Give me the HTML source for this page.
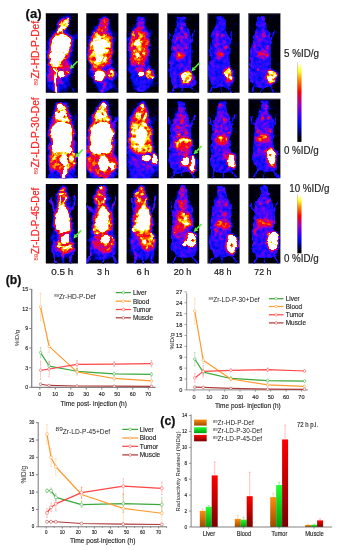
<!DOCTYPE html>
<html><head><meta charset="utf-8"><title>PET imaging figure</title>
<style>
html,body{margin:0;padding:0;background:#fff}
svg{display:block}
text{font-family:"Liberation Sans", Arial, sans-serif}
</style></head>
<body>
<svg width="337" height="550" viewBox="0 0 337 550">
<rect width="337" height="550" fill="#fff"/>
<text x="25.60" y="17.90" font-size="12.8" fill="#111" font-weight="bold" textLength="16.00" lengthAdjust="spacingAndGlyphs" stroke="#111" stroke-width="0.25">(a)</text>
<text x="5.70" y="284.30" font-size="12.8" fill="#111" font-weight="bold" textLength="15.60" lengthAdjust="spacingAndGlyphs" stroke="#111" stroke-width="0.25">(b)</text>
<text x="160.30" y="424.60" font-size="12.8" fill="#111" font-weight="bold" textLength="15.00" lengthAdjust="spacingAndGlyphs" stroke="#111" stroke-width="0.25">(c)</text>
<text transform="translate(39.4,85.5) rotate(-90)" font-size="10" fill="#ff2a2a" stroke="#ff2a2a" stroke-width="0.25" textLength="64.6" lengthAdjust="spacingAndGlyphs"><tspan font-size="6.2" dy="-1.8" stroke-width="0.05">89</tspan><tspan dy="1.8">Zr-HD-P-Def</tspan></text>
<text transform="translate(39.4,174.5) rotate(-90)" font-size="10" fill="#ff2a2a" stroke="#ff2a2a" stroke-width="0.25" textLength="77.2" lengthAdjust="spacingAndGlyphs"><tspan font-size="6.2" dy="-1.8" stroke-width="0.05">89</tspan><tspan dy="1.8">Zr-LD-P-30-Def</tspan></text>
<text transform="translate(39.4,260.5) rotate(-90)" font-size="10" fill="#ff2a2a" stroke="#ff2a2a" stroke-width="0.25" textLength="72.8" lengthAdjust="spacingAndGlyphs"><tspan font-size="6.2" dy="-1.8" stroke-width="0.05">89</tspan><tspan dy="1.8">Zr-LD-P-45-Def</tspan></text>
<text x="51.2" y="274.5" font-size="9.6" fill="#1a1a1a" stroke="#1a1a1a" stroke-width="0.2" textLength="22.0" lengthAdjust="spacingAndGlyphs">0.5 h</text>
<text x="96.9" y="274.5" font-size="9.6" fill="#1a1a1a" stroke="#1a1a1a" stroke-width="0.2" textLength="12.5" lengthAdjust="spacingAndGlyphs">3 h</text>
<text x="136.4" y="274.5" font-size="9.6" fill="#1a1a1a" stroke="#1a1a1a" stroke-width="0.2" textLength="12.9" lengthAdjust="spacingAndGlyphs">6 h</text>
<text x="173.7" y="274.5" font-size="9.6" fill="#1a1a1a" stroke="#1a1a1a" stroke-width="0.2" textLength="17.5" lengthAdjust="spacingAndGlyphs">20 h</text>
<text x="214.0" y="274.5" font-size="9.6" fill="#1a1a1a" stroke="#1a1a1a" stroke-width="0.2" textLength="17.5" lengthAdjust="spacingAndGlyphs">48 h</text>
<text x="254.3" y="274.5" font-size="9.6" fill="#1a1a1a" stroke="#1a1a1a" stroke-width="0.2" textLength="17.0" lengthAdjust="spacingAndGlyphs">72 h</text>
<defs><linearGradient id="cb" x1="0" y1="1" x2="0" y2="0"><stop offset="0" stop-color="#000000"/><stop offset="0.05" stop-color="#000010"/><stop offset="0.13" stop-color="#000080"/><stop offset="0.25" stop-color="#0808ff"/><stop offset="0.36" stop-color="#5000f0"/><stop offset="0.46" stop-color="#9a00c0"/><stop offset="0.63" stop-color="#ff0000"/><stop offset="0.77" stop-color="#ff8000"/><stop offset="0.89" stop-color="#ffff20"/><stop offset="0.99" stop-color="#ffffff"/></linearGradient></defs>
<rect x="297.1" y="62.3" width="0.8" height="79.6" fill="#9a9a9a"/><rect x="297.1" y="194" width="0.8" height="59.3" fill="#9a9a9a"/>
<rect x="297.5" y="62.3" width="4" height="79.6" fill="url(#cb)"/>
<rect x="297.5" y="194" width="4" height="59.3" fill="url(#cb)"/>
<text x="284" y="56.8" font-size="10.1" fill="#262626" stroke="#262626" stroke-width="0.2" textLength="35.0" lengthAdjust="spacingAndGlyphs">5 %ID/g</text>
<text x="283.9" y="154.3" font-size="10.1" fill="#262626" stroke="#262626" stroke-width="0.2" textLength="34.8" lengthAdjust="spacingAndGlyphs">0 %ID/g</text>
<text x="289.2" y="192.3" font-size="10.1" fill="#262626" stroke="#262626" stroke-width="0.2" textLength="40.3" lengthAdjust="spacingAndGlyphs">10 %ID/g</text>
<text x="283.9" y="262.3" font-size="10.1" fill="#262626" stroke="#262626" stroke-width="0.2" textLength="34.8" lengthAdjust="spacingAndGlyphs">0 %ID/g</text>
<defs>
<filter id="b0" filterUnits="userSpaceOnUse" x="-40" y="-40" width="300" height="630" color-interpolation-filters="sRGB"><feGaussianBlur stdDeviation="2.5"/></filter>
<filter id="b1" filterUnits="userSpaceOnUse" x="-40" y="-40" width="300" height="630" color-interpolation-filters="sRGB"><feGaussianBlur stdDeviation="4.5"/></filter>
<filter id="b2" filterUnits="userSpaceOnUse" x="-40" y="-40" width="300" height="630" color-interpolation-filters="sRGB"><feGaussianBlur stdDeviation="7.0"/></filter>
<filter id="b3" filterUnits="userSpaceOnUse" x="-40" y="-40" width="300" height="630" color-interpolation-filters="sRGB"><feGaussianBlur stdDeviation="11.0"/></filter>
<filter id="b4" filterUnits="userSpaceOnUse" x="-40" y="-40" width="300" height="630" color-interpolation-filters="sRGB"><feGaussianBlur stdDeviation="16.0"/></filter>
<filter id="cm" filterUnits="userSpaceOnUse" x="40" y="8" width="250" height="262" color-interpolation-filters="sRGB"><feTurbulence type="fractalNoise" baseFrequency="0.26" numOctaves="2" seed="7" result="n"/><feColorMatrix in="n" type="matrix" values="1.8 1.2 0 0 -1  1.8 1.2 0 0 -1  1.8 1.2 0 0 -1  0 0 0 0 1" result="ng"/><feTurbulence type="fractalNoise" baseFrequency="0.11" numOctaves="2" seed="3" result="t"/><feDisplacementMap in="SourceGraphic" in2="t" scale="5.5" xChannelSelector="R" yChannelSelector="G" result="d"/><feFlood flood-color="#000" result="k"/><feMerge result="dm"><feMergeNode in="k"/><feMergeNode in="d"/></feMerge><feComposite in="dm" in2="ng" operator="arithmetic" k1="0.5" k2="0.76" k3="0.04" k4="-0.02" result="m0"/><feGaussianBlur in="m0" stdDeviation="0.55" result="m"/><feComponentTransfer in="m"><feFuncR type="table" tableValues="0 0 0.02 0.28 0.62 0.88 1 1 1 1 1 1 1 1 1 1"/><feFuncG type="table" tableValues="0 0 0.06 0.03 0 0 0 0.38 0.72 1 1 1 1 1 1 1"/><feFuncB type="table" tableValues="0.02 0.55 1 1 0.78 0.4 0 0 0 0.15 1 1 1 1 1 1"/></feComponentTransfer><feComposite in2="SourceGraphic" operator="in"/></filter>
</defs>
<g filter="url(#cm)">
<svg x="45.8" y="13.3" width="32.1" height="79.5" viewBox="-1.38 2.06 220.69 546.56" preserveAspectRatio="none" overflow="hidden">
<rect x="-20" y="-20" width="280" height="600" fill="#000"/>
<path d="M60.0 120.0C37.5 133.3 23.7 170.0 15.0 200.0C6.3 230.0 9.2 266.7 8.0 300.0C6.8 333.3 6.8 371.7 8.0 400.0C9.2 428.3 11.3 446.7 15.0 470.0C18.7 493.3 12.5 528.3 30.0 540.0C47.5 551.7 98.3 551.7 120.0 540.0C141.7 528.3 150.0 493.3 160.0 470.0C170.0 446.7 177.5 428.3 180.0 400.0C182.5 371.7 173.3 333.3 175.0 300.0C176.7 266.7 194.2 230.0 190.0 200.0C185.8 170.0 171.7 133.3 150.0 120.0C128.3 106.7 82.5 106.7 60.0 120.0Z" fill="#1f1f1f" filter="url(#b3)"/>
<path d="M170 215L210 150" fill="none" stroke="#292929" stroke-width="12" stroke-linecap="round" stroke-linejoin="round" filter="url(#b2)"/>
<path d="M20 190L8 260" fill="none" stroke="#252525" stroke-width="10" stroke-linecap="round" stroke-linejoin="round" filter="url(#b2)"/>
<path d="M150 470L195 535" fill="none" stroke="#292929" stroke-width="11" stroke-linecap="round" stroke-linejoin="round" filter="url(#b2)"/>
<path d="M30 440L12 535" fill="none" stroke="#252525" stroke-width="11" stroke-linecap="round" stroke-linejoin="round" filter="url(#b2)"/>
<ellipse cx="130" cy="365" rx="42" ry="40" fill="#474747" filter="url(#b3)"/>
<ellipse cx="40" cy="430" rx="22" ry="45" fill="#3a3a3a" filter="url(#b3)"/>
<ellipse cx="120" cy="85" rx="30" ry="66" fill="#6d6d6d" filter="url(#b2)" transform="rotate(28 120 85)"/>
<ellipse cx="124" cy="82" rx="19" ry="54" fill="#a2a2a2" filter="url(#b1)" transform="rotate(28 124 82)"/>
<ellipse cx="138" cy="60" rx="11" ry="26" fill="#d5d5d5" filter="url(#b1)" transform="rotate(28 138 60)"/>
<ellipse cx="105" cy="135" rx="20" ry="20" fill="#d5d5d5" filter="url(#b1)"/>
<path d="M60.0 150.0C74.3 141.7 93.7 129.7 110.0 130.0C126.3 130.3 146.3 137.8 158.0 152.0C169.7 166.2 179.7 196.2 180.0 215.0C180.3 233.8 166.7 248.3 160.0 265.0C153.3 281.7 148.0 298.8 140.0 315.0C132.0 331.2 123.7 350.3 112.0 362.0C100.3 373.7 85.0 384.5 70.0 385.0C55.0 385.5 31.3 380.8 22.0 365.0C12.7 349.2 13.0 312.5 14.0 290.0C15.0 267.5 26.3 248.3 28.0 230.0C29.7 211.7 18.7 193.3 24.0 180.0C29.3 166.7 45.7 158.3 60.0 150.0Z" fill="#707070" filter="url(#b2)"/>
<path d="M62.0 164.0C74.3 157.0 95.0 145.7 110.0 146.0C125.0 146.3 142.3 154.5 152.0 166.0C161.7 177.5 169.0 199.7 168.0 215.0C167.0 230.3 153.3 242.5 146.0 258.0C138.7 273.5 132.0 292.7 124.0 308.0C116.0 323.3 107.8 339.7 98.0 350.0C88.2 360.3 76.0 369.3 65.0 370.0C54.0 370.7 38.5 367.3 32.0 354.0C25.5 340.7 24.7 310.7 26.0 290.0C27.3 269.3 38.3 247.0 40.0 230.0C41.7 213.0 32.3 199.0 36.0 188.0C39.7 177.0 49.7 171.0 62.0 164.0Z" fill="#bfbfbf" filter="url(#b1)"/>
<path d="M70.0 178.0C80.3 172.0 98.0 161.7 110.0 162.0C122.0 162.3 134.5 171.2 142.0 180.0C149.5 188.8 156.3 203.3 155.0 215.0C153.7 226.7 141.5 235.8 134.0 250.0C126.5 264.2 117.7 285.3 110.0 300.0C102.3 314.7 96.0 329.0 88.0 338.0C80.0 347.0 69.7 353.0 62.0 354.0C54.3 355.0 46.0 354.7 42.0 344.0C38.0 333.3 36.7 309.0 38.0 290.0C39.3 271.0 48.3 245.3 50.0 230.0C51.7 214.7 44.7 206.7 48.0 198.0C51.3 189.3 59.7 184.0 70.0 178.0Z" fill="#ffffff" filter="url(#b0)"/>
<ellipse cx="146" cy="295" rx="10" ry="32" fill="#7e7e7e" filter="url(#b2)" transform="rotate(15 146 295)"/>
<path d="M68 380L60 450L72 552" fill="none" stroke="#7a7a7a" stroke-width="18" stroke-linecap="round" stroke-linejoin="round" filter="url(#b2)"/>
<path d="M68 385L62 450L72 552" fill="none" stroke="#d5d5d5" stroke-width="9" stroke-linecap="round" stroke-linejoin="round" filter="url(#b1)"/>
<ellipse cx="100" cy="418" rx="31" ry="29" fill="#818181" filter="url(#b2)"/>
<ellipse cx="100" cy="418" rx="23" ry="22" fill="#ffffff" filter="url(#b1)"/>
<ellipse cx="150" cy="402" rx="20" ry="14" fill="#7e7e7e" filter="url(#b2)" transform="rotate(-35 150 402)"/>
<ellipse cx="152" cy="400" rx="9" ry="7" fill="#a2a2a2" filter="url(#b1)" transform="rotate(-35 152 400)"/>
<path d="M40 395L32 470" fill="none" stroke="#707070" stroke-width="9" stroke-linecap="round" stroke-linejoin="round" filter="url(#b2)"/>
<path d="M85 455L112 485" fill="none" stroke="#6d6d6d" stroke-width="9" stroke-linecap="round" stroke-linejoin="round" filter="url(#b2)"/>
</svg>
<svg x="86.3" y="13.3" width="32.1" height="79.5" viewBox="2.06 2.06 220.69 546.56" preserveAspectRatio="none" overflow="hidden">
<rect x="-20" y="-20" width="280" height="600" fill="#000"/>
<g transform="translate(100,0) scale(1.07,1) translate(-100,0)">
<path d="M105.0 40.0C92.5 48.3 85.0 71.7 75.0 90.0C65.0 108.3 53.3 128.3 45.0 150.0C36.7 171.7 28.3 195.0 25.0 220.0C21.7 245.0 24.2 273.3 25.0 300.0C25.8 326.7 28.3 356.7 30.0 380.0C31.7 403.3 28.3 421.7 35.0 440.0C41.7 458.3 60.0 472.5 70.0 490.0C80.0 507.5 83.3 535.8 95.0 545.0C106.7 554.2 125.8 554.2 140.0 545.0C154.2 535.8 170.0 507.5 180.0 490.0C190.0 472.5 197.5 458.3 200.0 440.0C202.5 421.7 200.0 403.3 195.0 380.0C190.0 356.7 173.3 326.7 170.0 300.0C166.7 273.3 175.0 245.0 175.0 220.0C175.0 195.0 172.5 171.7 170.0 150.0C167.5 128.3 163.3 108.3 160.0 90.0C156.7 71.7 159.2 48.3 150.0 40.0C140.8 31.7 117.5 31.7 105.0 40.0Z" fill="#252525" filter="url(#b2)"/>
<path d="M185 190L195 140" fill="none" stroke="#252525" stroke-width="10" stroke-linecap="round" stroke-linejoin="round" filter="url(#b2)"/>
<path d="M175 480L200 530" fill="none" stroke="#252525" stroke-width="10" stroke-linecap="round" stroke-linejoin="round" filter="url(#b2)"/>
<path d="M20 150L30 200" fill="none" stroke="#222222" stroke-width="9" stroke-linecap="round" stroke-linejoin="round" filter="url(#b2)"/>
<ellipse cx="115" cy="85" rx="32" ry="60" fill="#525252" filter="url(#b2)" transform="rotate(12 115 85)"/>
<ellipse cx="125" cy="50" rx="14" ry="19" fill="#696969" filter="url(#b1)"/>
<ellipse cx="100" cy="105" rx="15" ry="19" fill="#696969" filter="url(#b1)"/>
<ellipse cx="130" cy="100" rx="11" ry="15" fill="#666666" filter="url(#b1)"/>
<path d="M45.0 160.0C57.5 141.3 80.8 128.8 100.0 128.0C119.2 127.2 147.0 138.0 160.0 155.0C173.0 172.0 177.3 204.2 178.0 230.0C178.7 255.8 172.3 287.0 164.0 310.0C155.7 333.0 144.0 356.3 128.0 368.0C112.0 379.7 85.2 386.3 68.0 380.0C50.8 373.7 32.2 353.3 25.0 330.0C17.8 306.7 21.7 268.3 25.0 240.0C28.3 211.7 32.5 178.7 45.0 160.0Z" fill="#747474" filter="url(#b2)"/>
<path d="M44.0 192.0C52.8 176.3 77.0 158.3 95.0 156.0C113.0 153.7 140.8 164.8 152.0 178.0C163.2 191.2 163.7 218.3 162.0 235.0C160.3 251.7 148.7 260.5 142.0 278.0C135.3 295.5 132.7 327.7 122.0 340.0C111.3 352.3 89.7 357.3 78.0 352.0C66.3 346.7 58.0 325.0 52.0 308.0C46.0 291.0 43.3 269.3 42.0 250.0C40.7 230.7 35.2 207.7 44.0 192.0Z" fill="#929292" filter="url(#b1)"/>
<path d="M54.0 208.0C60.2 196.3 80.3 178.7 95.0 176.0C109.7 173.3 132.8 182.2 142.0 192.0C151.2 201.8 152.7 222.7 150.0 235.0C147.3 247.3 132.7 251.5 126.0 266.0C119.3 280.5 116.3 311.0 110.0 322.0C103.7 333.0 94.3 337.0 88.0 332.0C81.7 327.0 77.0 306.3 72.0 292.0C67.0 277.7 61.0 260.0 58.0 246.0C55.0 232.0 47.8 219.7 54.0 208.0Z" fill="#d5d5d5" filter="url(#b1)"/>
<ellipse cx="52" cy="300" rx="12" ry="38" fill="#858585" filter="url(#b1)"/>
<ellipse cx="70" cy="380" rx="34" ry="15" fill="#696969" filter="url(#b2)"/>
<ellipse cx="152" cy="330" rx="11" ry="22" fill="#707070" filter="url(#b2)"/>
<ellipse cx="75" cy="150" rx="14" ry="16" fill="#888888" filter="url(#b1)"/>
<ellipse cx="125" cy="150" rx="14" ry="14" fill="#858585" filter="url(#b1)"/>
<ellipse cx="90" cy="432" rx="40" ry="40" fill="#858585" filter="url(#b2)"/>
<ellipse cx="90" cy="432" rx="32" ry="32" fill="#ffffff" filter="url(#b1)"/>
<ellipse cx="170" cy="415" rx="29" ry="38" fill="#7e7e7e" filter="url(#b2)"/>
<ellipse cx="173" cy="400" rx="12" ry="13" fill="#a5a5a5" filter="url(#b1)"/>
<ellipse cx="159" cy="434" rx="11" ry="11" fill="#a5a5a5" filter="url(#b1)"/>
<ellipse cx="182" cy="430" rx="9" ry="10" fill="#9c9c9c" filter="url(#b1)"/>
<ellipse cx="172" cy="418" rx="7" ry="7" fill="#666666" filter="url(#b1)"/>
<path d="M128 480L112 548" fill="none" stroke="#636363" stroke-width="9" stroke-linecap="round" stroke-linejoin="round" filter="url(#b2)"/>
</g>
</svg>
<svg x="126.6" y="13.3" width="32.1" height="79.5" viewBox="4.12 2.06 220.69 546.56" preserveAspectRatio="none" overflow="hidden">
<rect x="-20" y="-20" width="280" height="600" fill="#000"/>
<g transform="translate(90,0) scale(1.06,1) translate(-90,0)">
<path d="M90.0 35.0C79.2 44.2 69.2 70.8 60.0 90.0C50.8 109.2 41.7 128.3 35.0 150.0C28.3 171.7 22.5 195.0 20.0 220.0C17.5 245.0 19.2 273.3 20.0 300.0C20.8 326.7 23.3 356.7 25.0 380.0C26.7 403.3 25.0 421.7 30.0 440.0C35.0 458.3 46.7 472.5 55.0 490.0C63.3 507.5 69.2 535.8 80.0 545.0C90.8 554.2 105.0 554.2 120.0 545.0C135.0 535.8 159.2 507.5 170.0 490.0C180.8 472.5 185.0 458.3 185.0 440.0C185.0 421.7 175.8 403.3 170.0 380.0C164.2 356.7 153.3 326.7 150.0 300.0C146.7 273.3 150.0 245.0 150.0 220.0C150.0 195.0 152.5 171.7 150.0 150.0C147.5 128.3 139.2 109.2 135.0 90.0C130.8 70.8 132.5 44.2 125.0 35.0C117.5 25.8 100.8 25.8 90.0 35.0Z" fill="#252525" filter="url(#b2)"/>
<path d="M150 160L165 120" fill="none" stroke="#252525" stroke-width="9" stroke-linecap="round" stroke-linejoin="round" filter="url(#b2)"/>
<path d="M150 480L215 490" fill="none" stroke="#222222" stroke-width="9" stroke-linecap="round" stroke-linejoin="round" filter="url(#b2)"/>
<path d="M10 140L25 200" fill="none" stroke="#222222" stroke-width="9" stroke-linecap="round" stroke-linejoin="round" filter="url(#b2)"/>
<ellipse cx="100" cy="85" rx="25" ry="54" fill="#414141" filter="url(#b2)" transform="rotate(8 100 85)"/>
<ellipse cx="105" cy="50" rx="9" ry="11" fill="#525252" filter="url(#b1)"/>
<ellipse cx="90" cy="100" rx="9" ry="11" fill="#525252" filter="url(#b1)"/>
<path d="M36.0 148.0C45.8 134.0 67.7 116.0 85.0 116.0C102.3 116.0 129.2 129.0 140.0 148.0C150.8 167.0 150.0 201.3 150.0 230.0C150.0 258.7 148.3 299.0 140.0 320.0C131.7 341.0 115.7 352.7 100.0 356.0C84.3 359.3 58.3 356.0 46.0 340.0C33.7 324.0 29.3 283.3 26.0 260.0C22.7 236.7 24.3 218.7 26.0 200.0C27.7 181.3 26.2 162.0 36.0 148.0Z" fill="#666666" filter="url(#b2)"/>
<ellipse cx="60" cy="150" rx="14" ry="24" fill="#7a7a7a" filter="url(#b1)"/>
<ellipse cx="115" cy="150" rx="14" ry="24" fill="#7a7a7a" filter="url(#b1)"/>
<ellipse cx="85" cy="260" rx="21" ry="76" fill="#858585" filter="url(#b2)"/>
<ellipse cx="82" cy="212" rx="25" ry="25" fill="#9c9c9c" filter="url(#b1)"/>
<ellipse cx="80" cy="210" rx="13" ry="13" fill="#cccccc" filter="url(#b1)"/>
<ellipse cx="88" cy="290" rx="9" ry="34" fill="#a7a7a7" filter="url(#b1)"/>
<ellipse cx="48" cy="270" rx="9" ry="22" fill="#818181" filter="url(#b1)"/>
<ellipse cx="122" cy="260" rx="9" ry="27" fill="#7e7e7e" filter="url(#b1)"/>
<ellipse cx="70" cy="330" rx="10" ry="12" fill="#7a7a7a" filter="url(#b1)"/>
<ellipse cx="95" cy="380" rx="26" ry="30" fill="#525252" filter="url(#b2)"/>
<ellipse cx="97" cy="422" rx="22" ry="22" fill="#8b8b8b" filter="url(#b1)"/>
<ellipse cx="97" cy="422" rx="15" ry="15" fill="#ffffff" filter="url(#b1)"/>
<ellipse cx="155" cy="415" rx="27" ry="34" fill="#777777" filter="url(#b2)"/>
<ellipse cx="160" cy="398" rx="11" ry="11" fill="#999999" filter="url(#b1)"/>
<ellipse cx="146" cy="432" rx="11" ry="11" fill="#a0a0a0" filter="url(#b1)"/>
<ellipse cx="169" cy="430" rx="8" ry="10" fill="#929292" filter="url(#b1)"/>
<path d="M100 460L85 540" fill="none" stroke="#363636" stroke-width="8" stroke-linecap="round" stroke-linejoin="round" filter="url(#b2)"/>
</g>
</svg>
<svg x="167.1" y="13.3" width="32.1" height="79.5" viewBox="0.69 2.06 220.69 546.56" preserveAspectRatio="none" overflow="hidden">
<rect x="-20" y="-20" width="280" height="600" fill="#000"/>
<path d="M84.6 28.0C77.4 33.0 76.0 45.5 72.5 58.0C69.0 70.5 68.6 88.3 63.7 103.0C58.7 117.7 48.3 126.8 42.8 146.0C37.3 165.2 34.0 189.3 30.7 218.0C27.4 246.7 25.2 289.7 23.0 318.0C20.8 346.3 18.1 366.3 17.5 388.0C16.9 409.7 16.6 431.7 19.7 448.0C22.8 464.3 29.0 475.2 36.2 486.0C43.3 496.8 42.1 508.5 62.6 513.0C83.1 517.5 137.8 517.5 159.4 513.0C181.0 508.5 186.5 496.8 192.4 486.0C198.3 475.2 197.5 464.3 194.6 448.0C191.7 431.7 179.2 409.7 174.8 388.0C170.4 366.3 169.3 346.3 168.2 318.0C167.1 289.7 169.7 246.7 168.2 218.0C166.7 189.3 164.3 165.2 159.4 146.0C154.5 126.8 143.4 117.7 138.5 103.0C133.6 88.3 133.5 70.5 129.7 58.0C125.8 45.5 122.9 33.0 115.4 28.0C107.9 23.0 91.8 23.0 84.6 28.0Z" fill="#292929" filter="url(#b1)"/>
<ellipse cx="82.4" cy="36" rx="8" ry="10" fill="#292929" filter="url(#b1)"/>
<ellipse cx="117.6" cy="36" rx="8" ry="10" fill="#292929" filter="url(#b1)"/>
<path d="M160.5 208L179.2 168L190.2 128" fill="none" stroke="#292929" stroke-width="11" stroke-linecap="round" stroke-linejoin="round" filter="url(#b1)"/>
<path d="M39.49999999999999 203L16.39999999999999 178L12.0 138" fill="none" stroke="#252525" stroke-width="10" stroke-linecap="round" stroke-linejoin="round" filter="url(#b1)"/>
<path d="M50.49999999999999 498L29.599999999999994 563" fill="none" stroke="#292929" stroke-width="11" stroke-linecap="round" stroke-linejoin="round" filter="url(#b1)"/>
<path d="M157.2 498L196.8 558" fill="none" stroke="#292929" stroke-width="11" stroke-linecap="round" stroke-linejoin="round" filter="url(#b1)"/>
<path d="M105.5 513L100.0 568" fill="none" stroke="#252525" stroke-width="7" stroke-linecap="round" stroke-linejoin="round" filter="url(#b1)"/>
<ellipse cx="95" cy="210" rx="45" ry="80" fill="#333333" filter="url(#b3)"/>
<ellipse cx="80" cy="170" rx="14" ry="14" fill="#4b4b4b" filter="url(#b1)"/>
<ellipse cx="120" cy="160" rx="12" ry="14" fill="#4b4b4b" filter="url(#b1)"/>
<ellipse cx="60" cy="240" rx="12" ry="14" fill="#4e4e4e" filter="url(#b1)"/>
<ellipse cx="140" cy="240" rx="12" ry="14" fill="#4b4b4b" filter="url(#b1)"/>
<ellipse cx="100" cy="105" rx="10" ry="10" fill="#414141" filter="url(#b1)"/>
<ellipse cx="92" cy="292" rx="38" ry="34" fill="#4e4e4e" filter="url(#b2)"/>
<ellipse cx="92" cy="290" rx="22" ry="18" fill="#636363" filter="url(#b1)"/>
<ellipse cx="85" cy="360" rx="18" ry="18" fill="#3a3a3a" filter="url(#b2)"/>
<ellipse cx="135" cy="437" rx="45" ry="45" fill="#696969" filter="url(#b2)"/>
<ellipse cx="135" cy="437" rx="36" ry="37" fill="#8f8f8f" filter="url(#b1)"/>
<ellipse cx="114" cy="437" rx="14" ry="20" fill="#eaeaea" filter="url(#b1)"/>
<ellipse cx="150" cy="420" rx="10" ry="10" fill="#9c9c9c" filter="url(#b1)"/>
<ellipse cx="150" cy="455" rx="11" ry="9" fill="#a0a0a0" filter="url(#b1)"/>
</svg>
<svg x="207.5" y="13.3" width="32.1" height="79.5" viewBox="3.44 2.06 220.69 546.56" preserveAspectRatio="none" overflow="hidden">
<rect x="-20" y="-20" width="280" height="600" fill="#000"/>
<path d="M75.3 25.0C68.5 30.0 67.1 42.5 63.8 55.0C60.4 67.5 60.1 85.3 55.4 100.0C50.6 114.7 40.6 123.8 35.4 143.0C30.1 162.2 27.0 186.3 23.8 215.0C20.7 243.7 18.6 286.7 16.5 315.0C14.4 343.3 11.8 363.3 11.2 385.0C10.7 406.7 10.4 428.7 13.3 445.0C16.3 461.3 22.3 472.2 29.1 483.0C35.9 493.8 34.7 505.5 54.3 510.0C73.9 514.5 126.0 514.5 146.7 510.0C167.3 505.5 172.6 493.8 178.2 483.0C183.8 472.2 183.1 461.3 180.3 445.0C177.5 428.7 165.6 406.7 161.4 385.0C157.2 363.3 156.2 343.3 155.1 315.0C154.1 286.7 156.5 243.7 155.1 215.0C153.7 186.3 151.4 162.2 146.7 143.0C142.0 123.8 131.5 114.7 126.8 100.0C122.0 85.3 122.0 67.5 118.3 55.0C114.7 42.5 111.9 30.0 104.7 25.0C97.5 20.0 82.1 20.0 75.3 25.0Z" fill="#292929" filter="url(#b1)"/>
<ellipse cx="73.2" cy="33" rx="8" ry="10" fill="#292929" filter="url(#b1)"/>
<ellipse cx="106.8" cy="33" rx="8" ry="10" fill="#292929" filter="url(#b1)"/>
<path d="M147.75 205L165.60000000000002 165L176.10000000000002 125" fill="none" stroke="#292929" stroke-width="11" stroke-linecap="round" stroke-linejoin="round" filter="url(#b1)"/>
<path d="M42.75 495L22.799999999999997 560" fill="none" stroke="#292929" stroke-width="11" stroke-linecap="round" stroke-linejoin="round" filter="url(#b1)"/>
<path d="M144.6 495L182.4 555" fill="none" stroke="#292929" stroke-width="11" stroke-linecap="round" stroke-linejoin="round" filter="url(#b1)"/>
<path d="M95.25 510L90.0 565" fill="none" stroke="#252525" stroke-width="7" stroke-linecap="round" stroke-linejoin="round" filter="url(#b1)"/>
<ellipse cx="90" cy="200" rx="42" ry="80" fill="#313131" filter="url(#b3)"/>
<ellipse cx="70" cy="150" rx="12" ry="14" fill="#444444" filter="url(#b1)"/>
<ellipse cx="110" cy="150" rx="12" ry="14" fill="#444444" filter="url(#b1)"/>
<ellipse cx="55" cy="230" rx="10" ry="16" fill="#474747" filter="url(#b1)"/>
<ellipse cx="130" cy="235" rx="10" ry="16" fill="#4b4b4b" filter="url(#b1)"/>
<ellipse cx="95" cy="280" rx="34" ry="28" fill="#474747" filter="url(#b2)"/>
<ellipse cx="90" cy="278" rx="19" ry="14" fill="#585858" filter="url(#b1)"/>
<ellipse cx="147" cy="422" rx="40" ry="52" fill="#696969" filter="url(#b2)"/>
<ellipse cx="147" cy="422" rx="31" ry="43" fill="#8f8f8f" filter="url(#b1)"/>
<ellipse cx="135" cy="432" rx="10" ry="18" fill="#bfbfbf" filter="url(#b1)"/>
<ellipse cx="160" cy="437" rx="9" ry="14" fill="#aaaaaa" filter="url(#b1)"/>
<ellipse cx="150" cy="398" rx="10" ry="8" fill="#7e7e7e" filter="url(#b1)"/>
</svg>
<svg x="248.3" y="13.3" width="32.1" height="79.5" viewBox="2.06 2.06 220.69 546.56" preserveAspectRatio="none" overflow="hidden">
<rect x="-20" y="-20" width="280" height="600" fill="#000"/>
<path d="M77.3 25.0C70.5 30.0 69.1 42.5 65.8 55.0C62.4 67.5 62.1 85.3 57.4 100.0C52.6 114.7 42.6 123.8 37.4 143.0C32.1 162.2 29.0 186.3 25.8 215.0C22.7 243.7 20.6 286.7 18.5 315.0C16.4 343.3 13.8 363.3 13.2 385.0C12.7 406.7 12.4 428.7 15.3 445.0C18.3 461.3 24.3 472.2 31.1 483.0C37.9 493.8 36.7 505.5 56.3 510.0C75.9 514.5 128.0 514.5 148.7 510.0C169.3 505.5 174.6 493.8 180.2 483.0C185.8 472.2 185.1 461.3 182.3 445.0C179.5 428.7 167.6 406.7 163.4 385.0C159.2 363.3 158.2 343.3 157.1 315.0C156.1 286.7 158.5 243.7 157.1 215.0C155.7 186.3 153.4 162.2 148.7 143.0C144.0 123.8 133.5 114.7 128.8 100.0C124.0 85.3 124.0 67.5 120.3 55.0C116.7 42.5 113.9 30.0 106.7 25.0C99.5 20.0 84.1 20.0 77.3 25.0Z" fill="#292929" filter="url(#b1)"/>
<ellipse cx="75.2" cy="33" rx="8" ry="10" fill="#292929" filter="url(#b1)"/>
<ellipse cx="108.8" cy="33" rx="8" ry="10" fill="#292929" filter="url(#b1)"/>
<path d="M149.75 205L167.60000000000002 165L178.10000000000002 125" fill="none" stroke="#292929" stroke-width="11" stroke-linecap="round" stroke-linejoin="round" filter="url(#b1)"/>
<path d="M44.75 495L24.799999999999997 560" fill="none" stroke="#292929" stroke-width="11" stroke-linecap="round" stroke-linejoin="round" filter="url(#b1)"/>
<path d="M146.6 495L184.4 555" fill="none" stroke="#292929" stroke-width="11" stroke-linecap="round" stroke-linejoin="round" filter="url(#b1)"/>
<path d="M97.25 510L92.0 565" fill="none" stroke="#252525" stroke-width="7" stroke-linecap="round" stroke-linejoin="round" filter="url(#b1)"/>
<ellipse cx="90" cy="200" rx="42" ry="80" fill="#313131" filter="url(#b3)"/>
<ellipse cx="65" cy="160" rx="10" ry="14" fill="#474747" filter="url(#b1)"/>
<ellipse cx="115" cy="150" rx="10" ry="14" fill="#444444" filter="url(#b1)"/>
<ellipse cx="50" cy="230" rx="10" ry="16" fill="#474747" filter="url(#b1)"/>
<ellipse cx="135" cy="235" rx="10" ry="16" fill="#4b4b4b" filter="url(#b1)"/>
<ellipse cx="100" cy="285" rx="38" ry="25" fill="#4b4b4b" filter="url(#b2)"/>
<ellipse cx="80" cy="280" rx="13" ry="10" fill="#636363" filter="url(#b1)"/>
<ellipse cx="120" cy="288" rx="13" ry="10" fill="#636363" filter="url(#b1)"/>
<ellipse cx="60" cy="400" rx="8" ry="8" fill="#474747" filter="url(#b1)"/>
<ellipse cx="160" cy="435" rx="38" ry="53" fill="#696969" filter="url(#b2)"/>
<ellipse cx="160" cy="435" rx="30" ry="44" fill="#8f8f8f" filter="url(#b1)"/>
<ellipse cx="150" cy="447" rx="10" ry="20" fill="#d5d5d5" filter="url(#b1)"/>
<ellipse cx="172" cy="432" rx="8" ry="18" fill="#aaaaaa" filter="url(#b1)"/>
<ellipse cx="160" cy="405" rx="10" ry="9" fill="#a3a3a3" filter="url(#b1)"/>
</svg>
<svg x="45.8" y="98.7" width="32.1" height="79.5" viewBox="-1.38 -2.06 220.69 546.56" preserveAspectRatio="none" overflow="hidden">
<rect x="-20" y="-20" width="280" height="600" fill="#000"/>
<g transform="translate(110,0) scale(1.12,1) translate(-110,0)">
<path d="M85.0 30.0C72.5 40.0 64.2 68.3 55.0 90.0C45.8 111.7 34.2 131.7 30.0 160.0C25.8 188.3 30.0 226.7 30.0 260.0C30.0 293.3 30.8 330.0 30.0 360.0C29.2 390.0 24.2 416.7 25.0 440.0C25.8 463.3 30.0 482.5 35.0 500.0C40.0 517.5 32.5 537.5 55.0 545.0C77.5 552.5 147.5 552.5 170.0 545.0C192.5 537.5 185.0 517.5 190.0 500.0C195.0 482.5 199.2 463.3 200.0 440.0C200.8 416.7 197.5 390.0 195.0 360.0C192.5 330.0 186.7 293.3 185.0 260.0C183.3 226.7 190.8 188.3 185.0 160.0C179.2 131.7 159.2 111.7 150.0 90.0C140.8 68.3 140.8 40.0 130.0 30.0C119.2 20.0 97.5 20.0 85.0 30.0Z" fill="#222222" filter="url(#b2)"/>
<path d="M28 125L45 190" fill="none" stroke="#292929" stroke-width="9" stroke-linecap="round" stroke-linejoin="round" filter="url(#b2)"/>
<path d="M207 105L180 180" fill="none" stroke="#292929" stroke-width="9" stroke-linecap="round" stroke-linejoin="round" filter="url(#b2)"/>
<path d="M55 470L38 548" fill="none" stroke="#333333" stroke-width="12" stroke-linecap="round" stroke-linejoin="round" filter="url(#b2)"/>
<path d="M185 470L198 548" fill="none" stroke="#333333" stroke-width="12" stroke-linecap="round" stroke-linejoin="round" filter="url(#b2)"/>
<path d="M100.0 20.0C107.7 19.3 120.5 24.7 128.0 38.0C135.5 51.3 138.8 80.5 145.0 100.0C151.2 119.5 180.0 145.8 165.0 155.0C150.0 164.2 71.2 164.2 55.0 155.0C38.8 145.8 63.5 118.8 68.0 100.0C72.5 81.2 76.7 55.3 82.0 42.0C87.3 28.7 92.3 20.7 100.0 20.0Z" fill="#747474" filter="url(#b2)"/>
<path d="M100.0 30.0C105.3 29.3 114.3 32.3 120.0 44.0C125.7 55.7 129.0 81.5 134.0 100.0C139.0 118.5 161.0 145.8 150.0 155.0C139.0 164.2 79.7 164.2 68.0 155.0C56.3 145.8 76.7 117.8 80.0 100.0C83.3 82.2 84.7 59.7 88.0 48.0C91.3 36.3 94.7 30.7 100.0 30.0Z" fill="#a2a2a2" filter="url(#b1)"/>
<ellipse cx="100" cy="55" rx="14" ry="19" fill="#bfbfbf" filter="url(#b1)"/>
<ellipse cx="105" cy="118" rx="24" ry="32" fill="#d5d5d5" filter="url(#b1)"/>
<ellipse cx="75" cy="100" rx="8" ry="14" fill="#999999" filter="url(#b1)"/>
<ellipse cx="112" cy="82" rx="7" ry="9" fill="#7a7a7a" filter="url(#b0)"/>
<ellipse cx="92" cy="95" rx="6" ry="8" fill="#7e7e7e" filter="url(#b0)"/>
<ellipse cx="125" cy="125" rx="6" ry="9" fill="#818181" filter="url(#b0)"/>
<path d="M40.0 200.0C44.5 175.0 46.7 158.3 65.0 150.0C83.3 141.7 130.8 141.7 150.0 150.0C169.2 158.3 175.7 175.0 180.0 200.0C184.3 225.0 177.7 270.8 176.0 300.0C174.3 329.2 181.0 359.7 170.0 375.0C159.0 390.3 130.8 392.0 110.0 392.0C89.2 392.0 57.0 390.3 45.0 375.0C33.0 359.7 38.8 329.2 38.0 300.0C37.2 270.8 35.5 225.0 40.0 200.0Z" fill="#7a7a7a" filter="url(#b2)"/>
<path d="M50.0 205.0C54.0 182.2 56.3 170.0 72.0 163.0C87.7 156.0 127.7 156.0 144.0 163.0C160.3 170.0 166.3 182.2 170.0 205.0C173.7 227.8 167.7 273.7 166.0 300.0C164.3 326.3 169.3 350.0 160.0 363.0C150.7 376.0 127.3 378.0 110.0 378.0C92.7 378.0 66.3 376.0 56.0 363.0C45.7 350.0 49.0 326.3 48.0 300.0C47.0 273.7 46.0 227.8 50.0 205.0Z" fill="#d5d5d5" filter="url(#b1)"/>
<path d="M60.0 210.0C63.7 189.7 67.3 183.3 80.0 178.0C92.7 172.7 122.7 172.7 136.0 178.0C149.3 183.3 156.7 189.7 160.0 210.0C163.3 230.3 157.7 276.3 156.0 300.0C154.3 323.7 157.7 341.2 150.0 352.0C142.3 362.8 124.3 365.0 110.0 365.0C95.7 365.0 72.7 362.8 64.0 352.0C55.3 341.2 58.7 323.7 58.0 300.0C57.3 276.3 56.3 230.3 60.0 210.0Z" fill="#ffffff" filter="url(#b0)"/>
<path d="M40.0 380.0C52.5 368.3 85.0 370.0 110.0 370.0C135.0 370.0 174.2 368.3 190.0 380.0C205.8 391.7 207.5 422.5 205.0 440.0C202.5 457.5 189.2 474.2 175.0 485.0C160.8 495.8 140.0 505.0 120.0 505.0C100.0 505.0 69.2 495.8 55.0 485.0C40.8 474.2 37.5 457.5 35.0 440.0C32.5 422.5 27.5 391.7 40.0 380.0Z" fill="#696969" filter="url(#b2)"/>
<ellipse cx="172" cy="400" rx="18" ry="36" fill="#929292" filter="url(#b1)"/>
<ellipse cx="62" cy="395" rx="16" ry="26" fill="#888888" filter="url(#b1)"/>
<ellipse cx="186" cy="440" rx="13" ry="13" fill="#a5a5a5" filter="url(#b1)"/>
<ellipse cx="150" cy="450" rx="12" ry="12" fill="#909090" filter="url(#b1)"/>
<ellipse cx="80" cy="450" rx="10" ry="14" fill="#888888" filter="url(#b1)"/>
<path d="M120 380L125 552" fill="none" stroke="#888888" stroke-width="28" stroke-linecap="round" stroke-linejoin="round" filter="url(#b2)"/>
<path d="M120 385L125 552" fill="none" stroke="#eaeaea" stroke-width="15" stroke-linecap="round" stroke-linejoin="round" filter="url(#b1)"/>
<ellipse cx="120" cy="420" rx="24" ry="36" fill="#eaeaea" filter="url(#b1)"/>
</g>
</svg>
<svg x="86.3" y="98.7" width="32.1" height="79.5" viewBox="2.06 -2.06 220.69 546.56" preserveAspectRatio="none" overflow="hidden">
<rect x="-20" y="-20" width="280" height="600" fill="#000"/>
<g transform="translate(112,0) scale(1.1,1) translate(-112,0)">
<path d="M95.0 20.0C83.3 30.0 75.0 58.3 65.0 80.0C55.0 101.7 41.7 121.7 35.0 150.0C28.3 178.3 27.5 216.7 25.0 250.0C22.5 283.3 21.7 318.3 20.0 350.0C18.3 381.7 13.3 415.0 15.0 440.0C16.7 465.0 24.2 482.5 30.0 500.0C35.8 517.5 25.0 537.5 50.0 545.0C75.0 552.5 155.0 552.5 180.0 545.0C205.0 537.5 195.8 517.5 200.0 500.0C204.2 482.5 206.7 465.0 205.0 440.0C203.3 415.0 193.3 381.7 190.0 350.0C186.7 318.3 186.7 283.3 185.0 250.0C183.3 216.7 185.0 178.3 180.0 150.0C175.0 121.7 162.5 101.7 155.0 80.0C147.5 58.3 145.0 30.0 135.0 20.0C125.0 10.0 106.7 10.0 95.0 20.0Z" fill="#292929" filter="url(#b2)"/>
<path d="M25 120L40 180" fill="none" stroke="#292929" stroke-width="9" stroke-linecap="round" stroke-linejoin="round" filter="url(#b2)"/>
<path d="M212 128L175 200" fill="none" stroke="#707070" stroke-width="13" stroke-linecap="round" stroke-linejoin="round" filter="url(#b2)"/>
<path d="M20.0 395.0C36.3 379.7 80.3 378.0 110.0 378.0C139.7 378.0 181.7 379.7 198.0 395.0C214.3 410.3 213.5 450.0 208.0 470.0C202.5 490.0 181.3 502.5 165.0 515.0C148.7 527.5 128.3 545.0 110.0 545.0C91.7 545.0 71.3 527.5 55.0 515.0C38.7 502.5 17.8 490.0 12.0 470.0C6.2 450.0 3.7 410.3 20.0 395.0Z" fill="#5f5f5f" filter="url(#b2)"/>
<ellipse cx="40" cy="440" rx="16" ry="30" fill="#666666" filter="url(#b2)"/>
<path d="M115.0 10.0C122.7 10.0 131.8 17.0 138.0 32.0C144.2 47.0 147.5 79.5 152.0 100.0C156.5 120.5 181.2 145.8 165.0 155.0C148.8 164.2 71.2 164.2 55.0 155.0C38.8 145.8 61.8 120.5 68.0 100.0C74.2 79.5 84.2 47.0 92.0 32.0C99.8 17.0 107.3 10.0 115.0 10.0Z" fill="#707070" filter="url(#b2)"/>
<path d="M115.0 18.0C120.7 18.0 127.3 24.3 132.0 38.0C136.7 51.7 139.5 80.5 143.0 100.0C146.5 119.5 165.5 145.8 153.0 155.0C140.5 164.2 80.2 164.2 68.0 155.0C55.8 145.8 75.0 119.5 80.0 100.0C85.0 80.5 92.2 51.7 98.0 38.0C103.8 24.3 109.3 18.0 115.0 18.0Z" fill="#999999" filter="url(#b1)"/>
<ellipse cx="115" cy="35" rx="15" ry="15" fill="#d5d5d5" filter="url(#b1)"/>
<ellipse cx="100" cy="120" rx="15" ry="27" fill="#bfbfbf" filter="url(#b1)"/>
<ellipse cx="135" cy="120" rx="11" ry="24" fill="#aaaaaa" filter="url(#b1)"/>
<ellipse cx="118" cy="80" rx="11" ry="15" fill="#aaaaaa" filter="url(#b1)"/>
<ellipse cx="118" cy="105" rx="6" ry="12" fill="#777777" filter="url(#b0)"/>
<ellipse cx="100" cy="70" rx="6" ry="8" fill="#7e7e7e" filter="url(#b0)"/>
<ellipse cx="132" cy="75" rx="5" ry="8" fill="#7e7e7e" filter="url(#b0)"/>
<path d="M30.0 220.0C35.3 195.8 39.2 165.8 60.0 155.0C80.8 144.2 135.0 144.2 155.0 155.0C175.0 165.8 176.3 195.8 180.0 220.0C183.7 244.2 178.0 274.2 177.0 300.0C176.0 325.8 185.2 359.7 174.0 375.0C162.8 390.3 133.0 392.0 110.0 392.0C87.0 392.0 49.7 390.3 36.0 375.0C22.3 359.7 29.0 325.8 28.0 300.0C27.0 274.2 24.7 244.2 30.0 220.0Z" fill="#777777" filter="url(#b2)"/>
<path d="M40.0 225.0C44.7 204.2 50.0 183.3 68.0 175.0C86.0 166.7 131.0 166.7 148.0 175.0C165.0 183.3 166.8 204.2 170.0 225.0C173.2 245.8 168.0 277.2 167.0 300.0C166.0 322.8 173.5 349.0 164.0 362.0C154.5 375.0 129.3 378.0 110.0 378.0C90.7 378.0 59.7 375.0 48.0 362.0C36.3 349.0 41.3 322.8 40.0 300.0C38.7 277.2 35.3 245.8 40.0 225.0Z" fill="#d5d5d5" filter="url(#b1)"/>
<path d="M50.0 230.0C54.3 212.0 60.7 198.3 76.0 192.0C91.3 185.7 128.0 185.7 142.0 192.0C156.0 198.3 157.7 212.0 160.0 230.0C162.3 248.0 157.3 279.7 156.0 300.0C154.7 320.3 159.7 341.2 152.0 352.0C144.3 362.8 125.7 365.0 110.0 365.0C94.3 365.0 68.0 362.8 58.0 352.0C48.0 341.2 51.3 320.3 50.0 300.0C48.7 279.7 45.7 248.0 50.0 230.0Z" fill="#ffffff" filter="url(#b0)"/>
<ellipse cx="120" cy="446" rx="40" ry="54" fill="#858585" filter="url(#b2)"/>
<ellipse cx="120" cy="446" rx="32" ry="47" fill="#ffffff" filter="url(#b1)"/>
<ellipse cx="180" cy="452" rx="24" ry="32" fill="#858585" filter="url(#b2)"/>
<ellipse cx="180" cy="455" rx="16" ry="23" fill="#eaeaea" filter="url(#b1)"/>
</g>
</svg>
<svg x="126.6" y="98.7" width="32.1" height="79.5" viewBox="4.12 -2.06 220.69 546.56" preserveAspectRatio="none" overflow="hidden">
<rect x="-20" y="-20" width="280" height="600" fill="#000"/>
<g transform="translate(105,0) scale(1.12,1) translate(-105,0)">
<path d="M90.0 25.0C78.3 34.2 70.0 59.2 60.0 80.0C50.0 100.8 35.8 121.7 30.0 150.0C24.2 178.3 26.7 216.7 25.0 250.0C23.3 283.3 20.8 318.3 20.0 350.0C19.2 381.7 17.5 415.0 20.0 440.0C22.5 465.0 29.2 482.5 35.0 500.0C40.8 517.5 34.2 537.5 55.0 545.0C75.8 552.5 137.5 552.5 160.0 545.0C182.5 537.5 182.5 517.5 190.0 500.0C197.5 482.5 205.8 465.0 205.0 440.0C204.2 415.0 190.8 381.7 185.0 350.0C179.2 318.3 173.3 283.3 170.0 250.0C166.7 216.7 169.2 178.3 165.0 150.0C160.8 121.7 150.8 100.8 145.0 80.0C139.2 59.2 139.2 34.2 130.0 25.0C120.8 15.8 101.7 15.8 90.0 25.0Z" fill="#292929" filter="url(#b2)"/>
<path d="M15 140L35 200" fill="none" stroke="#222222" stroke-width="9" stroke-linecap="round" stroke-linejoin="round" filter="url(#b2)"/>
<path d="M187 118L165 200" fill="none" stroke="#252525" stroke-width="9" stroke-linecap="round" stroke-linejoin="round" filter="url(#b2)"/>
<path d="M50 480L20 548" fill="none" stroke="#222222" stroke-width="10" stroke-linecap="round" stroke-linejoin="round" filter="url(#b2)"/>
<path d="M140 490L135 548" fill="none" stroke="#222222" stroke-width="10" stroke-linecap="round" stroke-linejoin="round" filter="url(#b2)"/>
<path d="M190 480L210 548" fill="none" stroke="#222222" stroke-width="10" stroke-linecap="round" stroke-linejoin="round" filter="url(#b2)"/>
<ellipse cx="110" cy="440" rx="75" ry="55" fill="#363636" filter="url(#b3)"/>
<path d="M110.0 20.0C116.7 20.0 124.7 28.7 130.0 42.0C135.3 55.3 137.8 81.2 142.0 100.0C146.2 118.8 169.5 145.8 155.0 155.0C140.5 164.2 69.5 164.2 55.0 155.0C40.5 145.8 62.2 118.8 68.0 100.0C73.8 81.2 83.0 55.3 90.0 42.0C97.0 28.7 103.3 20.0 110.0 20.0Z" fill="#696969" filter="url(#b2)"/>
<ellipse cx="108" cy="55" rx="14" ry="28" fill="#929292" filter="url(#b1)"/>
<ellipse cx="85" cy="120" rx="14" ry="28" fill="#969696" filter="url(#b1)"/>
<ellipse cx="125" cy="120" rx="12" ry="28" fill="#929292" filter="url(#b1)"/>
<path d="M40.0 200.0C44.2 178.0 42.5 156.7 60.0 148.0C77.5 139.3 127.5 137.7 145.0 148.0C162.5 158.3 161.7 184.7 165.0 210.0C168.3 235.3 166.7 274.2 165.0 300.0C163.3 325.8 165.8 351.7 155.0 365.0C144.2 378.3 118.3 381.7 100.0 380.0C81.7 378.3 55.8 371.7 45.0 355.0C34.2 338.3 35.8 305.8 35.0 280.0C34.2 254.2 35.8 222.0 40.0 200.0Z" fill="#707070" filter="url(#b2)"/>
<path d="M52.0 210.0C56.0 191.3 57.7 175.0 72.0 168.0C86.3 161.0 124.3 160.2 138.0 168.0C151.7 175.8 151.3 193.0 154.0 215.0C156.7 237.0 155.7 277.5 154.0 300.0C152.3 322.5 153.0 339.7 144.0 350.0C135.0 360.3 114.7 363.3 100.0 362.0C85.3 360.7 64.7 355.7 56.0 342.0C47.3 328.3 48.7 302.0 48.0 280.0C47.3 258.0 48.0 228.7 52.0 210.0Z" fill="#8f8f8f" filter="url(#b1)"/>
<ellipse cx="105" cy="255" rx="34" ry="66" fill="#a5a5a5" filter="url(#b1)"/>
<ellipse cx="105" cy="252" rx="26" ry="55" fill="#ffffff" filter="url(#b1)"/>
<ellipse cx="60" cy="300" rx="11" ry="38" fill="#9c9c9c" filter="url(#b1)"/>
<ellipse cx="70" cy="190" rx="10" ry="20" fill="#999999" filter="url(#b1)"/>
<ellipse cx="140" cy="410" rx="19" ry="26" fill="#8f8f8f" filter="url(#b1)"/>
<ellipse cx="140" cy="410" rx="12" ry="19" fill="#ffffff" filter="url(#b1)"/>
<ellipse cx="185" cy="405" rx="22" ry="40" fill="#818181" filter="url(#b2)"/>
<ellipse cx="185" cy="410" rx="13" ry="30" fill="#eaeaea" filter="url(#b1)"/>
</g>
</svg>
<svg x="167.1" y="98.7" width="32.1" height="79.5" viewBox="0.69 -2.06 220.69 546.56" preserveAspectRatio="none" overflow="hidden">
<rect x="-20" y="-20" width="280" height="600" fill="#000"/>
<path d="M82.6 22.0C75.4 27.0 74.0 39.5 70.5 52.0C67.0 64.5 66.6 82.3 61.7 97.0C56.7 111.7 46.3 120.8 40.8 140.0C35.3 159.2 32.0 183.3 28.7 212.0C25.4 240.7 23.2 283.7 21.0 312.0C18.8 340.3 16.1 360.3 15.5 382.0C14.9 403.7 14.6 425.7 17.7 442.0C20.8 458.3 27.0 469.2 34.2 480.0C41.3 490.8 40.1 502.5 60.6 507.0C81.1 511.5 135.8 511.5 157.4 507.0C179.0 502.5 184.5 490.8 190.4 480.0C196.3 469.2 195.5 458.3 192.6 442.0C189.7 425.7 177.2 403.7 172.8 382.0C168.4 360.3 167.3 340.3 166.2 312.0C165.1 283.7 167.7 240.7 166.2 212.0C164.7 183.3 162.3 159.2 157.4 140.0C152.5 120.8 141.4 111.7 136.5 97.0C131.6 82.3 131.6 64.5 127.7 52.0C123.9 39.5 120.9 27.0 113.4 22.0C105.9 17.0 89.8 17.0 82.6 22.0Z" fill="#292929" filter="url(#b1)"/>
<ellipse cx="80.4" cy="30" rx="8" ry="10" fill="#292929" filter="url(#b1)"/>
<ellipse cx="115.6" cy="30" rx="8" ry="10" fill="#292929" filter="url(#b1)"/>
<path d="M158.5 202L177.2 162L188.2 122" fill="none" stroke="#292929" stroke-width="11" stroke-linecap="round" stroke-linejoin="round" filter="url(#b1)"/>
<path d="M37.49999999999999 197L14.399999999999991 172L10.0 132" fill="none" stroke="#252525" stroke-width="10" stroke-linecap="round" stroke-linejoin="round" filter="url(#b1)"/>
<path d="M48.49999999999999 492L27.599999999999994 557" fill="none" stroke="#292929" stroke-width="11" stroke-linecap="round" stroke-linejoin="round" filter="url(#b1)"/>
<path d="M155.2 492L194.8 552" fill="none" stroke="#292929" stroke-width="11" stroke-linecap="round" stroke-linejoin="round" filter="url(#b1)"/>
<path d="M103.5 507L98.0 562" fill="none" stroke="#252525" stroke-width="7" stroke-linecap="round" stroke-linejoin="round" filter="url(#b1)"/>
<path d="M75.0 60.0C65.0 75.0 55.0 118.3 50.0 150.0C45.0 181.7 45.0 218.3 45.0 250.0C45.0 281.7 45.8 317.5 50.0 340.0C54.2 362.5 53.3 377.5 70.0 385.0C86.7 392.5 133.3 392.5 150.0 385.0C166.7 377.5 169.2 362.5 170.0 340.0C170.8 317.5 160.0 281.7 155.0 250.0C150.0 218.3 147.5 181.7 140.0 150.0C132.5 118.3 120.8 75.0 110.0 60.0C99.2 45.0 85.0 45.0 75.0 60.0Z" fill="#3d3d3d" filter="url(#b3)"/>
<ellipse cx="80" cy="70" rx="9" ry="11" fill="#585858" filter="url(#b1)"/>
<ellipse cx="110" cy="150" rx="11" ry="13" fill="#5c5c5c" filter="url(#b1)"/>
<ellipse cx="70" cy="200" rx="11" ry="13" fill="#585858" filter="url(#b1)"/>
<ellipse cx="130" cy="230" rx="13" ry="13" fill="#5c5c5c" filter="url(#b1)"/>
<ellipse cx="80" cy="250" rx="15" ry="13" fill="#5f5f5f" filter="url(#b1)"/>
<ellipse cx="95" cy="110" rx="9" ry="10" fill="#555555" filter="url(#b1)"/>
<ellipse cx="140" cy="180" rx="9" ry="12" fill="#555555" filter="url(#b1)"/>
<ellipse cx="110" cy="305" rx="62" ry="38" fill="#666666" filter="url(#b2)"/>
<path d="M62 322L88 292L125 284L162 302" fill="none" stroke="#858585" stroke-width="22" stroke-linecap="round" stroke-linejoin="round" filter="url(#b2)"/>
<path d="M72 314L94 291L124 285L150 292" fill="none" stroke="#a2a2a2" stroke-width="10" stroke-linecap="round" stroke-linejoin="round" filter="url(#b1)"/>
<ellipse cx="152" cy="294" rx="11" ry="9" fill="#999999" filter="url(#b1)"/>
<ellipse cx="110" cy="372" rx="40" ry="25" fill="#474747" filter="url(#b2)"/>
<ellipse cx="125" cy="432" rx="32" ry="30" fill="#858585" filter="url(#b2)"/>
<ellipse cx="125" cy="432" rx="25" ry="23" fill="#ffffff" filter="url(#b1)"/>
<path d="M170.0 388.0C175.3 380.3 192.3 383.7 198.0 394.0C203.7 404.3 204.7 433.0 204.0 450.0C203.3 467.0 201.7 488.0 194.0 496.0C186.3 504.0 165.3 503.0 158.0 498.0C150.7 493.0 148.7 475.7 150.0 466.0C151.3 456.3 162.7 453.0 166.0 440.0C169.3 427.0 164.7 395.7 170.0 388.0Z" fill="#858585" filter="url(#b2)"/>
<path d="M175.0 400.0C177.8 393.8 188.5 396.7 192.0 405.0C195.5 413.3 196.8 436.5 196.0 450.0C195.2 463.5 192.3 479.7 187.0 486.0C181.7 492.3 168.5 491.2 164.0 488.0C159.5 484.8 158.2 474.7 160.0 467.0C161.8 459.3 172.5 453.2 175.0 442.0C177.5 430.8 172.2 406.2 175.0 400.0Z" fill="#ffffff" filter="url(#b1)"/>
</svg>
<svg x="207.5" y="98.7" width="32.1" height="79.5" viewBox="3.44 -2.06 220.69 546.56" preserveAspectRatio="none" overflow="hidden">
<rect x="-20" y="-20" width="280" height="600" fill="#000"/>
<path d="M86.9 18.0C79.9 23.0 78.4 35.5 75.0 48.0C71.6 60.5 71.2 78.3 66.4 93.0C61.5 107.7 51.2 116.8 45.8 136.0C40.4 155.2 37.2 179.3 34.0 208.0C30.7 236.7 28.6 279.7 26.4 308.0C24.2 336.3 21.5 356.3 21.0 378.0C20.5 399.7 20.1 421.7 23.2 438.0C26.2 454.3 32.3 465.2 39.4 476.0C46.4 486.8 45.1 498.5 65.3 503.0C85.4 507.5 139.1 507.5 160.3 503.0C181.6 498.5 187.0 486.8 192.7 476.0C198.5 465.2 197.8 454.3 194.9 438.0C192.0 421.7 179.8 399.7 175.4 378.0C171.1 356.3 170.0 336.3 169.0 308.0C167.9 279.7 170.4 236.7 169.0 208.0C167.5 179.3 165.2 155.2 160.3 136.0C155.5 116.8 144.7 107.7 139.8 93.0C134.9 78.3 134.9 60.5 131.2 48.0C127.4 35.5 124.5 23.0 117.1 18.0C109.7 13.0 93.9 13.0 86.9 18.0Z" fill="#292929" filter="url(#b1)"/>
<ellipse cx="84.72" cy="26" rx="8" ry="10" fill="#292929" filter="url(#b1)"/>
<ellipse cx="119.28" cy="26" rx="8" ry="10" fill="#292929" filter="url(#b1)"/>
<path d="M161.4 198L179.76 158L190.56 118" fill="none" stroke="#292929" stroke-width="11" stroke-linecap="round" stroke-linejoin="round" filter="url(#b1)"/>
<path d="M42.599999999999994 193L19.919999999999987 168L15.599999999999994 128" fill="none" stroke="#252525" stroke-width="10" stroke-linecap="round" stroke-linejoin="round" filter="url(#b1)"/>
<path d="M53.4 488L32.879999999999995 553" fill="none" stroke="#292929" stroke-width="11" stroke-linecap="round" stroke-linejoin="round" filter="url(#b1)"/>
<path d="M158.16 488L197.04000000000002 548" fill="none" stroke="#292929" stroke-width="11" stroke-linecap="round" stroke-linejoin="round" filter="url(#b1)"/>
<path d="M107.4 503L102.0 558" fill="none" stroke="#252525" stroke-width="7" stroke-linecap="round" stroke-linejoin="round" filter="url(#b1)"/>
<path d="M75.0 60.0C65.8 75.0 59.2 118.3 55.0 150.0C50.8 181.7 50.8 218.3 50.0 250.0C49.2 281.7 46.7 317.5 50.0 340.0C53.3 362.5 55.0 377.5 70.0 385.0C85.0 392.5 125.0 392.5 140.0 385.0C155.0 377.5 157.5 362.5 160.0 340.0C162.5 317.5 157.5 281.7 155.0 250.0C152.5 218.3 152.5 181.7 145.0 150.0C137.5 118.3 121.7 75.0 110.0 60.0C98.3 45.0 84.2 45.0 75.0 60.0Z" fill="#353535" filter="url(#b3)"/>
<ellipse cx="90" cy="45" rx="10" ry="10" fill="#4e4e4e" filter="url(#b1)"/>
<ellipse cx="125" cy="130" rx="10" ry="12" fill="#585858" filter="url(#b1)"/>
<ellipse cx="60" cy="220" rx="10" ry="12" fill="#585858" filter="url(#b1)"/>
<ellipse cx="150" cy="230" rx="10" ry="12" fill="#555555" filter="url(#b1)"/>
<ellipse cx="95" cy="180" rx="9" ry="11" fill="#4c4c4c" filter="url(#b1)"/>
<ellipse cx="105" cy="278" rx="48" ry="30" fill="#636363" filter="url(#b2)"/>
<ellipse cx="95" cy="272" rx="24" ry="13" fill="#7a7a7a" filter="url(#b1)"/>
<ellipse cx="132" cy="278" rx="13" ry="13" fill="#7e7e7e" filter="url(#b1)"/>
<ellipse cx="125" cy="402" rx="19" ry="17" fill="#5e5e5e" filter="url(#b2)"/>
<path d="M152.0 372.0C159.0 367.2 178.8 361.0 186.0 369.0C193.2 377.0 194.0 403.5 195.0 420.0C196.0 436.5 199.5 459.3 192.0 468.0C184.5 476.7 158.7 476.7 150.0 472.0C141.3 467.3 141.0 452.3 140.0 440.0C139.0 427.7 142.0 409.3 144.0 398.0C146.0 386.7 145.0 376.8 152.0 372.0Z" fill="#818181" filter="url(#b2)"/>
<path d="M158.0 384.0C162.5 380.5 175.2 375.0 180.0 381.0C184.8 387.0 186.3 407.2 187.0 420.0C187.7 432.8 189.2 451.0 184.0 458.0C178.8 465.0 161.8 465.3 156.0 462.0C150.2 458.7 149.5 448.0 149.0 438.0C148.5 428.0 151.5 411.0 153.0 402.0C154.5 393.0 153.5 387.5 158.0 384.0Z" fill="#eaeaea" filter="url(#b1)"/>
</svg>
<svg x="248.3" y="98.7" width="32.1" height="79.5" viewBox="2.06 -2.06 220.69 546.56" preserveAspectRatio="none" overflow="hidden">
<rect x="-20" y="-20" width="280" height="600" fill="#000"/>
<path d="M97.3 12.0C90.5 17.0 89.1 29.5 85.8 42.0C82.4 54.5 82.1 72.3 77.3 87.0C72.6 101.7 62.6 110.8 57.4 130.0C52.1 149.2 49.0 173.3 45.8 202.0C42.7 230.7 40.6 273.7 38.5 302.0C36.4 330.3 33.8 350.3 33.2 372.0C32.7 393.7 32.4 415.7 35.3 432.0C38.3 448.3 44.3 459.2 51.1 470.0C57.9 480.8 56.7 492.5 76.3 497.0C95.9 501.5 148.0 501.5 168.7 497.0C189.3 492.5 194.6 480.8 200.2 470.0C205.8 459.2 205.1 448.3 202.3 432.0C199.5 415.7 187.6 393.7 183.4 372.0C179.2 350.3 178.2 330.3 177.1 302.0C176.1 273.7 178.5 230.7 177.1 202.0C175.7 173.3 173.4 149.2 168.7 130.0C164.0 110.8 153.5 101.7 148.8 87.0C144.0 72.3 144.0 54.5 140.3 42.0C136.7 29.5 133.9 17.0 126.7 12.0C119.5 7.0 104.1 7.0 97.3 12.0Z" fill="#292929" filter="url(#b1)"/>
<ellipse cx="95.2" cy="20" rx="8" ry="10" fill="#292929" filter="url(#b1)"/>
<ellipse cx="128.8" cy="20" rx="8" ry="10" fill="#292929" filter="url(#b1)"/>
<path d="M169.75 192L187.60000000000002 152L198.10000000000002 112" fill="none" stroke="#292929" stroke-width="11" stroke-linecap="round" stroke-linejoin="round" filter="url(#b1)"/>
<path d="M54.25 187L32.2 162L28.0 122" fill="none" stroke="#252525" stroke-width="10" stroke-linecap="round" stroke-linejoin="round" filter="url(#b1)"/>
<path d="M64.75 482L44.8 547" fill="none" stroke="#292929" stroke-width="11" stroke-linecap="round" stroke-linejoin="round" filter="url(#b1)"/>
<path d="M166.6 482L204.4 542" fill="none" stroke="#292929" stroke-width="11" stroke-linecap="round" stroke-linejoin="round" filter="url(#b1)"/>
<path d="M117.25 497L112.0 552" fill="none" stroke="#252525" stroke-width="7" stroke-linecap="round" stroke-linejoin="round" filter="url(#b1)"/>
<path d="M110.0 40.0C96.7 58.3 74.2 115.0 65.0 150.0C55.8 185.0 57.5 218.3 55.0 250.0C52.5 281.7 47.5 317.5 50.0 340.0C52.5 362.5 55.0 377.5 70.0 385.0C85.0 392.5 125.0 392.5 140.0 385.0C155.0 377.5 157.5 362.5 160.0 340.0C162.5 317.5 156.7 281.7 155.0 250.0C153.3 218.3 151.7 185.0 150.0 150.0C148.3 115.0 151.7 58.3 145.0 40.0C138.3 21.7 123.3 21.7 110.0 40.0Z" fill="#333333" filter="url(#b3)"/>
<ellipse cx="130" cy="50" rx="10" ry="10" fill="#4e4e4e" filter="url(#b1)"/>
<ellipse cx="100" cy="130" rx="10" ry="12" fill="#585858" filter="url(#b1)"/>
<ellipse cx="140" cy="125" rx="10" ry="12" fill="#585858" filter="url(#b1)"/>
<ellipse cx="70" cy="215" rx="10" ry="14" fill="#585858" filter="url(#b1)"/>
<ellipse cx="150" cy="215" rx="10" ry="12" fill="#555555" filter="url(#b1)"/>
<ellipse cx="100" cy="268" rx="48" ry="30" fill="#636363" filter="url(#b2)"/>
<ellipse cx="100" cy="262" rx="27" ry="15" fill="#707070" filter="url(#b1)"/>
<ellipse cx="125" cy="265" rx="9" ry="9" fill="#888888" filter="url(#b1)"/>
<path d="M134.0 348.0C142.8 338.0 174.7 341.3 184.0 350.0C193.3 358.7 189.5 383.0 190.0 400.0C190.5 417.0 195.3 442.5 187.0 452.0C178.7 461.5 149.3 464.0 140.0 457.0C130.7 450.0 132.0 428.2 131.0 410.0C130.0 391.8 125.2 358.0 134.0 348.0Z" fill="#818181" filter="url(#b2)"/>
<path d="M143.0 360.0C148.8 352.0 169.7 355.3 176.0 362.0C182.3 368.7 180.7 386.8 181.0 400.0C181.3 413.2 183.5 433.5 178.0 441.0C172.5 448.5 154.2 450.2 148.0 445.0C141.8 439.8 141.8 424.2 141.0 410.0C140.2 395.8 137.2 368.0 143.0 360.0Z" fill="#dddddd" filter="url(#b1)"/>
<ellipse cx="160" cy="385" rx="8" ry="12" fill="#969696" filter="url(#b1)"/>
</svg>
<svg x="45.8" y="184.0" width="32.1" height="79.5" viewBox="-1.38 0.00 220.69 546.56" preserveAspectRatio="none" overflow="hidden">
<rect x="-20" y="-20" width="280" height="600" fill="#000"/>
<path d="M90.0 60.0C76.7 71.7 66.7 98.3 60.0 130.0C53.3 161.7 53.3 213.3 50.0 250.0C46.7 286.7 40.8 318.3 40.0 350.0C39.2 381.7 40.0 415.0 45.0 440.0C50.0 465.0 49.2 490.0 70.0 500.0C90.8 510.0 149.2 510.0 170.0 500.0C190.8 490.0 190.8 465.0 195.0 440.0C199.2 415.0 197.5 381.7 195.0 350.0C192.5 318.3 184.2 286.7 180.0 250.0C175.8 213.3 176.7 161.7 170.0 130.0C163.3 98.3 153.3 71.7 140.0 60.0C126.7 48.3 103.3 48.3 90.0 60.0Z" fill="#1f1f1f" filter="url(#b2)"/>
<path d="M40 95L50 170L75 215" fill="none" stroke="#313131" stroke-width="13" stroke-linecap="round" stroke-linejoin="round" filter="url(#b1)"/>
<path d="M195 90L185 160L160 210" fill="none" stroke="#313131" stroke-width="13" stroke-linecap="round" stroke-linejoin="round" filter="url(#b1)"/>
<path d="M55 400L50 470L70 548" fill="none" stroke="#313131" stroke-width="14" stroke-linecap="round" stroke-linejoin="round" filter="url(#b1)"/>
<path d="M180 400L185 470L170 548" fill="none" stroke="#313131" stroke-width="14" stroke-linecap="round" stroke-linejoin="round" filter="url(#b1)"/>
<ellipse cx="113" cy="40" rx="24" ry="24" fill="#696969" filter="url(#b2)"/>
<ellipse cx="113" cy="38" rx="13" ry="11" fill="#858585" filter="url(#b1)"/>
<path d="M82.0 62.0C93.7 54.0 134.7 54.0 146.0 62.0C157.3 70.0 151.0 94.5 150.0 110.0C149.0 125.5 150.0 147.5 140.0 155.0C130.0 162.5 100.7 162.5 90.0 155.0C79.3 147.5 77.3 125.5 76.0 110.0C74.7 94.5 70.3 70.0 82.0 62.0Z" fill="#6d6d6d" filter="url(#b2)"/>
<ellipse cx="102" cy="72" rx="20" ry="8" fill="#bfbfbf" filter="url(#b1)"/>
<path d="M90 94L105 150" fill="none" stroke="#bfbfbf" stroke-width="8" stroke-linecap="round" stroke-linejoin="round" filter="url(#b1)"/>
<path d="M140 94L126 150" fill="none" stroke="#bfbfbf" stroke-width="8" stroke-linecap="round" stroke-linejoin="round" filter="url(#b1)"/>
<ellipse cx="115" cy="108" rx="9" ry="16" fill="#696969" filter="url(#b1)"/>
<path d="M115.0 122.0C126.7 122.0 140.5 146.7 150.0 168.0C159.5 189.3 169.3 225.3 172.0 250.0C174.7 274.7 175.5 300.7 166.0 316.0C156.5 331.3 132.0 342.0 115.0 342.0C98.0 342.0 73.8 331.3 64.0 316.0C54.2 300.7 53.3 274.7 56.0 250.0C58.7 225.3 70.2 189.3 80.0 168.0C89.8 146.7 103.3 122.0 115.0 122.0Z" fill="#7a7a7a" filter="url(#b2)"/>
<path d="M115.0 140.0C124.0 140.0 134.2 157.7 142.0 176.0C149.8 194.3 159.7 228.0 162.0 250.0C164.3 272.0 163.8 294.7 156.0 308.0C148.2 321.3 128.7 330.0 115.0 330.0C101.3 330.0 82.2 321.3 74.0 308.0C65.8 294.7 63.7 272.0 66.0 250.0C68.3 228.0 79.8 194.3 88.0 176.0C96.2 157.7 106.0 140.0 115.0 140.0Z" fill="#d5d5d5" filter="url(#b1)"/>
<path d="M115.0 160.0C121.3 160.0 127.8 175.0 134.0 190.0C140.2 205.0 150.0 232.0 152.0 250.0C154.0 268.0 152.2 287.0 146.0 298.0C139.8 309.0 125.3 316.0 115.0 316.0C104.7 316.0 90.5 309.0 84.0 298.0C77.5 287.0 74.0 268.0 76.0 250.0C78.0 232.0 89.5 205.0 96.0 190.0C102.5 175.0 108.7 160.0 115.0 160.0Z" fill="#ffffff" filter="url(#b0)"/>
<path d="M100 330L106 395" fill="none" stroke="#777777" stroke-width="12" stroke-linecap="round" stroke-linejoin="round" filter="url(#b2)"/>
<ellipse cx="138" cy="380" rx="34" ry="34" fill="#818181" filter="url(#b2)"/>
<ellipse cx="138" cy="380" rx="26" ry="27" fill="#ffffff" filter="url(#b1)"/>
<path d="M60.0 418.0C67.5 409.3 99.2 398.0 120.0 398.0C140.8 398.0 175.8 408.5 185.0 418.0C194.2 427.5 185.0 445.0 175.0 455.0C165.0 465.0 141.7 478.8 125.0 478.0C108.3 477.2 85.8 460.0 75.0 450.0C64.2 440.0 52.5 426.7 60.0 418.0Z" fill="#707070" filter="url(#b2)"/>
<path d="M72 428L120 444L168 425" fill="none" stroke="#a7a7a7" stroke-width="11" stroke-linecap="round" stroke-linejoin="round" filter="url(#b1)"/>
<ellipse cx="90" cy="400" rx="12" ry="16" fill="#888888" filter="url(#b1)"/>
<path d="M120 440L120 505" fill="none" stroke="#7a7a7a" stroke-width="13" stroke-linecap="round" stroke-linejoin="round" filter="url(#b2)"/>
<path d="M120 470L120 552" fill="none" stroke="#666666" stroke-width="8" stroke-linecap="round" stroke-linejoin="round" filter="url(#b2)"/>
</svg>
<svg x="86.3" y="184.0" width="32.1" height="79.5" viewBox="2.06 0.00 220.69 546.56" preserveAspectRatio="none" overflow="hidden">
<rect x="-20" y="-20" width="280" height="600" fill="#000"/>
<path d="M85.0 30.0C73.3 41.7 66.7 71.7 60.0 100.0C53.3 128.3 49.2 166.7 45.0 200.0C40.8 233.3 38.3 266.7 35.0 300.0C31.7 333.3 25.8 373.3 25.0 400.0C24.2 426.7 22.5 441.7 30.0 460.0C37.5 478.3 48.3 501.7 70.0 510.0C91.7 518.3 138.3 518.3 160.0 510.0C181.7 501.7 193.3 478.3 200.0 460.0C206.7 441.7 201.7 426.7 200.0 400.0C198.3 373.3 194.2 333.3 190.0 300.0C185.8 266.7 180.0 233.3 175.0 200.0C170.0 166.7 167.5 128.3 160.0 100.0C152.5 71.7 142.5 41.7 130.0 30.0C117.5 18.3 96.7 18.3 85.0 30.0Z" fill="#252525" filter="url(#b2)"/>
<path d="M0 135L30 170L60 200" fill="none" stroke="#313131" stroke-width="14" stroke-linecap="round" stroke-linejoin="round" filter="url(#b1)"/>
<path d="M202 92L187 160L165 200" fill="none" stroke="#313131" stroke-width="14" stroke-linecap="round" stroke-linejoin="round" filter="url(#b1)"/>
<path d="M35 430L35 490L8 548" fill="none" stroke="#313131" stroke-width="15" stroke-linecap="round" stroke-linejoin="round" filter="url(#b1)"/>
<path d="M190 430L185 490L207 548" fill="none" stroke="#313131" stroke-width="15" stroke-linecap="round" stroke-linejoin="round" filter="url(#b1)"/>
<path d="M115 480L118 548" fill="none" stroke="#313131" stroke-width="12" stroke-linecap="round" stroke-linejoin="round" filter="url(#b1)"/>
<path d="M105.0 12.0C113.0 12.0 124.5 23.3 130.0 38.0C135.5 52.7 137.3 82.2 138.0 100.0C138.7 117.8 145.0 137.5 134.0 145.0C123.0 152.5 84.0 152.5 72.0 145.0C60.0 137.5 60.3 117.8 62.0 100.0C63.7 82.2 74.8 52.7 82.0 38.0C89.2 23.3 97.0 12.0 105.0 12.0Z" fill="#666666" filter="url(#b2)"/>
<ellipse cx="100" cy="30" rx="13" ry="11" fill="#858585" filter="url(#b1)"/>
<ellipse cx="105" cy="70" rx="11" ry="13" fill="#818181" filter="url(#b1)"/>
<path d="M78 98L95 150" fill="none" stroke="#999999" stroke-width="10" stroke-linecap="round" stroke-linejoin="round" filter="url(#b1)"/>
<path d="M132 98L121 150" fill="none" stroke="#999999" stroke-width="10" stroke-linecap="round" stroke-linejoin="round" filter="url(#b1)"/>
<path d="M110.0 125.0C123.3 123.3 139.3 137.2 150.0 158.0C160.7 178.8 171.3 222.0 174.0 250.0C176.7 278.0 176.7 309.0 166.0 326.0C155.3 343.0 128.0 350.3 110.0 352.0C92.0 353.7 68.0 349.7 58.0 336.0C48.0 322.3 48.0 298.0 50.0 270.0C52.0 242.0 60.0 192.2 70.0 168.0C80.0 143.8 96.7 126.7 110.0 125.0Z" fill="#747474" filter="url(#b2)"/>
<path d="M116.0 152.0C125.0 152.0 135.5 165.7 143.0 182.0C150.5 198.3 159.2 229.7 161.0 250.0C162.8 270.3 161.5 291.7 154.0 304.0C146.5 316.3 128.3 324.0 116.0 324.0C103.7 324.0 87.3 316.3 80.0 304.0C72.7 291.7 70.5 270.3 72.0 250.0C73.5 229.7 81.7 198.3 89.0 182.0C96.3 165.7 107.0 152.0 116.0 152.0Z" fill="#aaaaaa" filter="url(#b1)"/>
<path d="M116.0 170.0C122.5 170.0 130.0 180.7 136.0 194.0C142.0 207.3 150.5 233.0 152.0 250.0C153.5 267.0 151.0 285.7 145.0 296.0C139.0 306.3 125.3 312.0 116.0 312.0C106.7 312.0 94.7 306.3 89.0 296.0C83.3 285.7 80.7 267.0 82.0 250.0C83.3 233.0 91.3 207.3 97.0 194.0C102.7 180.7 109.5 170.0 116.0 170.0Z" fill="#ffffff" filter="url(#b1)"/>
<ellipse cx="68" cy="320" rx="13" ry="27" fill="#888888" filter="url(#b1)"/>
<path d="M52.0 362.0C63.3 351.2 87.3 344.8 110.0 345.0C132.7 345.2 173.3 350.5 188.0 363.0C202.7 375.5 201.8 403.5 198.0 420.0C194.2 436.5 178.8 452.0 165.0 462.0C151.2 472.0 130.8 481.7 115.0 480.0C99.2 478.3 82.2 463.7 70.0 452.0C57.8 440.3 45.0 425.0 42.0 410.0C39.0 395.0 40.7 372.8 52.0 362.0Z" fill="#555555" filter="url(#b2)"/>
<ellipse cx="135" cy="380" rx="36" ry="36" fill="#858585" filter="url(#b2)"/>
<ellipse cx="135" cy="380" rx="28" ry="28" fill="#ffffff" filter="url(#b1)"/>
<ellipse cx="150" cy="440" rx="20" ry="11" fill="#8f8f8f" filter="url(#b1)" transform="rotate(-25 150 440)"/>
<ellipse cx="187" cy="380" rx="9" ry="15" fill="#818181" filter="url(#b1)"/>
<ellipse cx="78" cy="380" rx="11" ry="19" fill="#747474" filter="url(#b1)"/>
<ellipse cx="185" cy="420" rx="8" ry="10" fill="#777777" filter="url(#b1)"/>
</svg>
<svg x="126.6" y="184.0" width="32.1" height="79.5" viewBox="4.12 0.00 220.69 546.56" preserveAspectRatio="none" overflow="hidden">
<rect x="-20" y="-20" width="280" height="600" fill="#000"/>
<path d="M80.0 30.0C68.3 41.7 60.8 71.7 55.0 100.0C49.2 128.3 48.3 166.7 45.0 200.0C41.7 233.3 37.5 266.7 35.0 300.0C32.5 333.3 30.0 373.3 30.0 400.0C30.0 426.7 28.3 441.7 35.0 460.0C41.7 478.3 49.2 501.7 70.0 510.0C90.8 518.3 139.2 518.3 160.0 510.0C180.8 501.7 188.3 478.3 195.0 460.0C201.7 441.7 202.5 426.7 200.0 400.0C197.5 373.3 185.8 333.3 180.0 300.0C174.2 266.7 170.0 233.3 165.0 200.0C160.0 166.7 156.7 128.3 150.0 100.0C143.3 71.7 136.7 41.7 125.0 30.0C113.3 18.3 91.7 18.3 80.0 30.0Z" fill="#252525" filter="url(#b2)"/>
<path d="M40 100L45 160L65 200" fill="none" stroke="#313131" stroke-width="13" stroke-linecap="round" stroke-linejoin="round" filter="url(#b1)"/>
<path d="M202 88L192 160L165 200" fill="none" stroke="#313131" stroke-width="13" stroke-linecap="round" stroke-linejoin="round" filter="url(#b1)"/>
<path d="M60 440L65 548" fill="none" stroke="#313131" stroke-width="15" stroke-linecap="round" stroke-linejoin="round" filter="url(#b1)"/>
<path d="M185 440L180 548" fill="none" stroke="#313131" stroke-width="15" stroke-linecap="round" stroke-linejoin="round" filter="url(#b1)"/>
<path d="M120 480L118 548" fill="none" stroke="#313131" stroke-width="12" stroke-linecap="round" stroke-linejoin="round" filter="url(#b1)"/>
<path d="M100.0 12.0C107.7 12.0 118.2 23.3 124.0 38.0C129.8 52.7 133.3 82.2 135.0 100.0C136.7 117.8 145.2 137.5 134.0 145.0C122.8 152.5 80.0 152.5 68.0 145.0C56.0 137.5 60.3 117.8 62.0 100.0C63.7 82.2 71.7 52.7 78.0 38.0C84.3 23.3 92.3 12.0 100.0 12.0Z" fill="#666666" filter="url(#b2)"/>
<ellipse cx="98" cy="30" rx="13" ry="11" fill="#818181" filter="url(#b1)"/>
<ellipse cx="80" cy="70" rx="11" ry="11" fill="#8b8b8b" filter="url(#b1)"/>
<ellipse cx="110" cy="75" rx="11" ry="11" fill="#858585" filter="url(#b1)"/>
<path d="M78 98L100 150" fill="none" stroke="#929292" stroke-width="10" stroke-linecap="round" stroke-linejoin="round" filter="url(#b1)"/>
<path d="M137 98L126 150" fill="none" stroke="#929292" stroke-width="10" stroke-linecap="round" stroke-linejoin="round" filter="url(#b1)"/>
<path d="M110.0 125.0C123.7 123.3 139.3 137.2 150.0 158.0C160.7 178.8 171.0 220.3 174.0 250.0C177.0 279.7 178.7 318.0 168.0 336.0C157.3 354.0 129.0 357.2 110.0 358.0C91.0 358.8 64.3 355.7 54.0 341.0C43.7 326.3 45.7 298.8 48.0 270.0C50.3 241.2 57.7 192.2 68.0 168.0C78.3 143.8 96.3 126.7 110.0 125.0Z" fill="#747474" filter="url(#b2)"/>
<path d="M118.0 146.0C128.7 146.0 144.2 164.7 152.0 182.0C159.8 199.3 164.5 227.7 165.0 250.0C165.5 272.3 163.3 301.7 155.0 316.0C146.7 330.3 129.8 334.3 115.0 336.0C100.2 337.7 74.7 338.7 66.0 326.0C57.3 313.3 59.3 284.0 63.0 260.0C66.7 236.0 78.8 201.0 88.0 182.0C97.2 163.0 107.3 146.0 118.0 146.0Z" fill="#969696" filter="url(#b1)"/>
<path d="M120.0 165.0C128.2 165.0 139.8 177.8 146.0 192.0C152.2 206.2 156.8 231.2 157.0 250.0C157.2 268.8 153.5 293.3 147.0 305.0C140.5 316.7 128.2 320.0 118.0 320.0C107.8 320.0 92.3 316.7 86.0 305.0C79.7 293.3 78.2 268.8 80.0 250.0C81.8 231.2 90.3 206.2 97.0 192.0C103.7 177.8 111.8 165.0 120.0 165.0Z" fill="#ffffff" filter="url(#b1)"/>
<ellipse cx="62" cy="310" rx="13" ry="27" fill="#969696" filter="url(#b1)"/>
<path d="M92.0 343.0C101.7 328.0 133.0 330.5 150.0 332.0C167.0 333.5 185.3 340.7 194.0 352.0C202.7 363.3 204.7 384.5 202.0 400.0C199.3 415.5 190.0 435.0 178.0 445.0C166.0 455.0 144.3 463.8 130.0 460.0C115.7 456.2 98.3 441.5 92.0 422.0C85.7 402.5 82.3 358.0 92.0 343.0Z" fill="#747474" filter="url(#b2)"/>
<ellipse cx="176" cy="370" rx="15" ry="27" fill="#929292" filter="url(#b1)"/>
<ellipse cx="150" cy="442" rx="15" ry="9" fill="#969696" filter="url(#b1)" transform="rotate(-30 150 442)"/>
<ellipse cx="110" cy="360" rx="12" ry="14" fill="#8f8f8f" filter="url(#b1)"/>
<ellipse cx="60" cy="400" rx="25" ry="40" fill="#363636" filter="url(#b3)"/>
<ellipse cx="130" cy="392" rx="18" ry="18" fill="#999999" filter="url(#b1)"/>
<ellipse cx="130" cy="392" rx="12" ry="12" fill="#ffffff" filter="url(#b1)"/>
</svg>
<svg x="167.1" y="184.0" width="32.1" height="79.5" viewBox="0.69 0.00 220.69 546.56" preserveAspectRatio="none" overflow="hidden">
<rect x="-20" y="-20" width="280" height="600" fill="#000"/>
<path d="M92.9 18.0C85.9 23.0 84.4 35.5 81.0 48.0C77.6 60.5 77.2 78.3 72.4 93.0C67.5 107.7 57.2 116.8 51.8 136.0C46.4 155.2 43.2 179.3 40.0 208.0C36.7 236.7 34.6 279.7 32.4 308.0C30.2 336.3 27.5 356.3 27.0 378.0C26.5 399.7 26.1 421.7 29.2 438.0C32.2 454.3 38.3 465.2 45.4 476.0C52.4 486.8 51.1 498.5 71.3 503.0C91.4 507.5 145.1 507.5 166.3 503.0C187.6 498.5 193.0 486.8 198.7 476.0C204.5 465.2 203.8 454.3 200.9 438.0C198.0 421.7 185.8 399.7 181.4 378.0C177.1 356.3 176.0 336.3 175.0 308.0C173.9 279.7 176.4 236.7 175.0 208.0C173.5 179.3 171.2 155.2 166.3 136.0C161.5 116.8 150.7 107.7 145.8 93.0C140.9 78.3 140.9 60.5 137.2 48.0C133.4 35.5 130.5 23.0 123.1 18.0C115.7 13.0 99.9 13.0 92.9 18.0Z" fill="#2a2a2a" filter="url(#b1)"/>
<ellipse cx="90.72" cy="26" rx="8" ry="10" fill="#2a2a2a" filter="url(#b1)"/>
<ellipse cx="125.28" cy="26" rx="8" ry="10" fill="#2a2a2a" filter="url(#b1)"/>
<path d="M48.599999999999994 193L25.919999999999987 168L21.599999999999994 128" fill="none" stroke="#262626" stroke-width="10" stroke-linecap="round" stroke-linejoin="round" filter="url(#b1)"/>
<path d="M59.4 488L38.879999999999995 553" fill="none" stroke="#2a2a2a" stroke-width="11" stroke-linecap="round" stroke-linejoin="round" filter="url(#b1)"/>
<path d="M164.16 488L203.04000000000002 548" fill="none" stroke="#2a2a2a" stroke-width="11" stroke-linecap="round" stroke-linejoin="round" filter="url(#b1)"/>
<path d="M113.4 503L108.0 558" fill="none" stroke="#262626" stroke-width="7" stroke-linecap="round" stroke-linejoin="round" filter="url(#b1)"/>
<path d="M90.0 30.0C80.0 45.0 70.8 88.3 65.0 120.0C59.2 151.7 57.5 186.7 55.0 220.0C52.5 253.3 49.2 292.5 50.0 320.0C50.8 347.5 45.0 374.2 60.0 385.0C75.0 395.8 123.3 395.8 140.0 385.0C156.7 374.2 156.7 347.5 160.0 320.0C163.3 292.5 162.5 253.3 160.0 220.0C157.5 186.7 150.8 151.7 145.0 120.0C139.2 88.3 134.2 45.0 125.0 30.0C115.8 15.0 100.0 15.0 90.0 30.0Z" fill="#3d3d3d" filter="url(#b3)"/>
<ellipse cx="105" cy="40" rx="15" ry="15" fill="#5f5f5f" filter="url(#b1)"/>
<ellipse cx="90" cy="130" rx="17" ry="15" fill="#636363" filter="url(#b1)"/>
<ellipse cx="130" cy="130" rx="11" ry="13" fill="#5c5c5c" filter="url(#b1)"/>
<ellipse cx="100" cy="85" rx="9" ry="10" fill="#4e4e4e" filter="url(#b1)"/>
<ellipse cx="115" cy="255" rx="48" ry="66" fill="#666666" filter="url(#b2)"/>
<ellipse cx="120" cy="250" rx="32" ry="50" fill="#818181" filter="url(#b2)"/>
<ellipse cx="125" cy="215" rx="14" ry="18" fill="#a0a0a0" filter="url(#b1)"/>
<ellipse cx="118" cy="265" rx="23" ry="16" fill="#9c9c9c" filter="url(#b1)"/>
<ellipse cx="105" cy="240" rx="10" ry="10" fill="#999999" filter="url(#b1)"/>
<ellipse cx="60" cy="310" rx="15" ry="37" fill="#666666" filter="url(#b2)"/>
<ellipse cx="100" cy="160" rx="22" ry="15" fill="#5c5c5c" filter="url(#b2)"/>
<ellipse cx="165" cy="385" rx="40" ry="46" fill="#858585" filter="url(#b2)"/>
<ellipse cx="165" cy="385" rx="32" ry="39" fill="#ffffff" filter="url(#b1)"/>
<ellipse cx="172" cy="387" rx="12" ry="16" fill="#7a7a7a" filter="url(#b1)"/>
<ellipse cx="124" cy="412" rx="18" ry="18" fill="#8f8f8f" filter="url(#b1)"/>
<ellipse cx="124" cy="412" rx="11" ry="11" fill="#ffffff" filter="url(#b1)"/>
</svg>
<svg x="207.5" y="184.0" width="32.1" height="79.5" viewBox="3.44 0.00 220.69 546.56" preserveAspectRatio="none" overflow="hidden">
<rect x="-20" y="-20" width="280" height="600" fill="#000"/>
<path d="M84.3 16.0C77.0 21.0 75.5 33.5 72.0 46.0C68.5 58.5 68.1 76.3 63.0 91.0C58.0 105.7 47.4 114.8 41.8 134.0C36.2 153.2 32.8 177.3 29.4 206.0C26.1 234.7 23.8 277.7 21.6 306.0C19.4 334.3 16.6 354.3 16.0 376.0C15.4 397.7 15.1 419.7 18.2 436.0C21.4 452.3 27.8 463.2 35.0 474.0C42.3 484.8 41.0 496.5 61.9 501.0C82.8 505.5 138.5 505.5 160.5 501.0C182.5 496.5 188.1 484.8 194.1 474.0C200.1 463.2 199.3 452.3 196.3 436.0C193.3 419.7 180.6 397.7 176.2 376.0C171.7 354.3 170.6 334.3 169.4 306.0C168.3 277.7 170.9 234.7 169.4 206.0C167.9 177.3 165.5 153.2 160.5 134.0C155.4 114.8 144.2 105.7 139.2 91.0C134.2 76.3 134.2 58.5 130.2 46.0C126.3 33.5 123.3 21.0 115.7 16.0C108.0 11.0 91.6 11.0 84.3 16.0Z" fill="#2a2a2a" filter="url(#b1)"/>
<ellipse cx="82.08" cy="24" rx="8" ry="10" fill="#2a2a2a" filter="url(#b1)"/>
<ellipse cx="117.92" cy="24" rx="8" ry="10" fill="#2a2a2a" filter="url(#b1)"/>
<path d="M49.599999999999994 486L28.319999999999993 551" fill="none" stroke="#2a2a2a" stroke-width="11" stroke-linecap="round" stroke-linejoin="round" filter="url(#b1)"/>
<path d="M158.24 486L198.56 546" fill="none" stroke="#2a2a2a" stroke-width="11" stroke-linecap="round" stroke-linejoin="round" filter="url(#b1)"/>
<path d="M105.6 501L100.0 556" fill="none" stroke="#262626" stroke-width="7" stroke-linecap="round" stroke-linejoin="round" filter="url(#b1)"/>
<path d="M75.0 100.0C64.2 116.7 64.2 163.3 60.0 200.0C55.8 236.7 50.0 292.5 50.0 320.0C50.0 347.5 43.3 357.5 60.0 365.0C76.7 372.5 132.5 372.5 150.0 365.0C167.5 357.5 165.0 347.5 165.0 320.0C165.0 292.5 156.7 236.7 150.0 200.0C143.3 163.3 137.5 116.7 125.0 100.0C112.5 83.3 85.8 83.3 75.0 100.0Z" fill="#333333" filter="url(#b3)"/>
<ellipse cx="85" cy="130" rx="15" ry="13" fill="#474747" filter="url(#b1)"/>
<ellipse cx="135" cy="130" rx="13" ry="13" fill="#474747" filter="url(#b1)"/>
<ellipse cx="120" cy="210" rx="13" ry="15" fill="#474747" filter="url(#b1)"/>
<ellipse cx="80" cy="45" rx="8" ry="8" fill="#3d3d3d" filter="url(#b1)"/>
<ellipse cx="115" cy="278" rx="62" ry="34" fill="#5f5f5f" filter="url(#b2)"/>
<ellipse cx="92" cy="268" rx="28" ry="18" fill="#666666" filter="url(#b1)"/>
<ellipse cx="146" cy="280" rx="22" ry="22" fill="#666666" filter="url(#b1)"/>
<ellipse cx="55" cy="325" rx="13" ry="22" fill="#5c5c5c" filter="url(#b2)"/>
<ellipse cx="170" cy="415" rx="42" ry="65" fill="#858585" filter="url(#b2)"/>
<ellipse cx="170" cy="415" rx="34" ry="57" fill="#ffffff" filter="url(#b1)"/>
<ellipse cx="170" cy="422" rx="11" ry="18" fill="#7a7a7a" filter="url(#b1)"/>
<ellipse cx="165" cy="422" rx="5" ry="6" fill="#5f5f5f" filter="url(#b1)"/>
</svg>
<svg x="248.3" y="184.0" width="32.1" height="79.5" viewBox="2.06 0.00 220.69 546.56" preserveAspectRatio="none" overflow="hidden">
<rect x="-20" y="-20" width="280" height="600" fill="#000"/>
<path d="M94.6 16.0C87.4 21.0 86.0 33.5 82.5 46.0C79.0 58.5 78.6 76.3 73.7 91.0C68.7 105.7 58.3 114.8 52.8 134.0C47.3 153.2 44.0 177.3 40.7 206.0C37.4 234.7 35.2 277.7 33.0 306.0C30.8 334.3 28.1 354.3 27.5 376.0C26.9 397.7 26.6 419.7 29.7 436.0C32.8 452.3 39.0 463.2 46.2 474.0C53.3 484.8 52.1 496.5 72.6 501.0C93.1 505.5 147.8 505.5 169.4 501.0C191.0 496.5 196.5 484.8 202.4 474.0C208.3 463.2 207.5 452.3 204.6 436.0C201.7 419.7 189.2 397.7 184.8 376.0C180.4 354.3 179.3 334.3 178.2 306.0C177.1 277.7 179.7 234.7 178.2 206.0C176.7 177.3 174.3 153.2 169.4 134.0C164.5 114.8 153.4 105.7 148.5 91.0C143.6 76.3 143.5 58.5 139.7 46.0C135.8 33.5 132.9 21.0 125.4 16.0C117.9 11.0 101.8 11.0 94.6 16.0Z" fill="#2a2a2a" filter="url(#b1)"/>
<ellipse cx="92.4" cy="24" rx="8" ry="10" fill="#2a2a2a" filter="url(#b1)"/>
<ellipse cx="127.6" cy="24" rx="8" ry="10" fill="#2a2a2a" filter="url(#b1)"/>
<path d="M170.5 196L189.2 156L200.2 116" fill="none" stroke="#2a2a2a" stroke-width="11" stroke-linecap="round" stroke-linejoin="round" filter="url(#b1)"/>
<path d="M49.49999999999999 191L26.39999999999999 166L22.0 126" fill="none" stroke="#262626" stroke-width="10" stroke-linecap="round" stroke-linejoin="round" filter="url(#b1)"/>
<path d="M60.49999999999999 486L39.599999999999994 551" fill="none" stroke="#2a2a2a" stroke-width="11" stroke-linecap="round" stroke-linejoin="round" filter="url(#b1)"/>
<path d="M167.2 486L206.8 546" fill="none" stroke="#2a2a2a" stroke-width="11" stroke-linecap="round" stroke-linejoin="round" filter="url(#b1)"/>
<path d="M115.5 501L110.0 556" fill="none" stroke="#262626" stroke-width="7" stroke-linecap="round" stroke-linejoin="round" filter="url(#b1)"/>
<path d="M80.0 100.0C67.5 116.7 64.2 163.3 60.0 200.0C55.8 236.7 54.2 292.5 55.0 320.0C55.8 347.5 49.2 357.5 65.0 365.0C80.8 372.5 133.3 372.5 150.0 365.0C166.7 357.5 164.2 347.5 165.0 320.0C165.8 292.5 160.0 236.7 155.0 200.0C150.0 163.3 147.5 116.7 135.0 100.0C122.5 83.3 92.5 83.3 80.0 100.0Z" fill="#313131" filter="url(#b3)"/>
<ellipse cx="95" cy="130" rx="15" ry="13" fill="#474747" filter="url(#b1)"/>
<ellipse cx="140" cy="125" rx="11" ry="13" fill="#474747" filter="url(#b1)"/>
<ellipse cx="115" cy="272" rx="60" ry="30" fill="#5f5f5f" filter="url(#b2)"/>
<ellipse cx="92" cy="264" rx="28" ry="16" fill="#666666" filter="url(#b1)"/>
<ellipse cx="144" cy="272" rx="24" ry="18" fill="#666666" filter="url(#b1)"/>
<ellipse cx="55" cy="320" rx="11" ry="24" fill="#555555" filter="url(#b2)"/>
<ellipse cx="172" cy="395" rx="45" ry="67" fill="#858585" filter="url(#b2)"/>
<ellipse cx="172" cy="395" rx="37" ry="59" fill="#ffffff" filter="url(#b1)"/>
<path d="M150 407L165 393L178 414L192 405" fill="none" stroke="#747474" stroke-width="6" stroke-linecap="round" stroke-linejoin="round" filter="url(#b1)"/>
<ellipse cx="160" cy="400" rx="6" ry="6" fill="#707070" filter="url(#b1)"/>
</svg>
</g>
<path d="M167.50 92.80V13.70H199.20" fill="none" stroke="#8e8e8e" stroke-width="0.8" opacity="0.6"/>
<path d="M207.90 92.80V13.70H239.60" fill="none" stroke="#8e8e8e" stroke-width="0.8" opacity="0.6"/>
<path d="M248.70 92.80V13.70H280.40" fill="none" stroke="#8e8e8e" stroke-width="0.8" opacity="0.6"/>
<path d="M207.90 178.20V99.10H239.60" fill="none" stroke="#8e8e8e" stroke-width="0.8" opacity="0.6"/>
<path d="M248.70 178.20V99.10H280.40" fill="none" stroke="#8e8e8e" stroke-width="0.8" opacity="0.6"/>
<path d="M207.90 263.50V184.40H239.60" fill="none" stroke="#8e8e8e" stroke-width="0.8" opacity="0.6"/>
<path d="M248.70 263.50V184.40H280.40" fill="none" stroke="#8e8e8e" stroke-width="0.8" opacity="0.6"/>
<path d="M77.6 61.3L72.9 65.9" stroke="#5cf03c" stroke-width="1.6" fill="none"/><path d="M69.7 69.0L71.3 64.4L74.4 67.5Z" fill="#5cf03c"/>
<path d="M199.6 62.8L194.4 68.2" stroke="#5cf03c" stroke-width="1.6" fill="none"/><path d="M191.3 71.4L192.8 66.7L195.9 69.8Z" fill="#5cf03c"/>
<path d="M82.8 149.5L78.2 154.4" stroke="#5cf03c" stroke-width="1.6" fill="none"/><path d="M75.2 157.6L76.6 152.9L79.8 155.9Z" fill="#5cf03c"/>
<path d="M201.6 146.0L196.7 151.1" stroke="#5cf03c" stroke-width="1.6" fill="none"/><path d="M193.6 154.3L195.1 149.6L198.2 152.7Z" fill="#5cf03c"/>
<path d="M81.1 230.4L76.4 235.2" stroke="#5cf03c" stroke-width="1.6" fill="none"/><path d="M73.3 238.4L74.8 233.7L77.9 236.8Z" fill="#5cf03c"/>
<path d="M201.6 224.0L196.7 228.9" stroke="#5cf03c" stroke-width="1.6" fill="none"/><path d="M193.6 232.0L195.2 227.3L198.3 230.4Z" fill="#5cf03c"/>
<path d="M31.7 288.9V387.3H155.7" fill="none" stroke="#858585" stroke-width="1.3"/>
<text x="28.20" y="389.21" font-size="5.3" fill="#222" text-anchor="end" stroke="#222" stroke-width="0.13">0</text>
<text x="28.20" y="369.59" font-size="5.3" fill="#222" text-anchor="end" stroke="#222" stroke-width="0.13">3</text>
<text x="28.20" y="349.97" font-size="5.3" fill="#222" text-anchor="end" stroke="#222" stroke-width="0.13">6</text>
<text x="28.20" y="330.35" font-size="5.3" fill="#222" text-anchor="end" stroke="#222" stroke-width="0.13">9</text>
<text x="28.20" y="310.73" font-size="5.3" fill="#222" text-anchor="end" stroke="#222" stroke-width="0.13">12</text>
<text x="28.20" y="291.11" font-size="5.3" fill="#222" text-anchor="end" stroke="#222" stroke-width="0.13">15</text>
<text x="39.80" y="395.64" font-size="5.3" fill="#222" text-anchor="middle" stroke="#222" stroke-width="0.13">0</text>
<text x="55.30" y="395.64" font-size="5.3" fill="#222" text-anchor="middle" stroke="#222" stroke-width="0.13">10</text>
<text x="70.80" y="395.64" font-size="5.3" fill="#222" text-anchor="middle" stroke="#222" stroke-width="0.13">20</text>
<text x="86.30" y="395.64" font-size="5.3" fill="#222" text-anchor="middle" stroke="#222" stroke-width="0.13">30</text>
<text x="101.80" y="395.64" font-size="5.3" fill="#222" text-anchor="middle" stroke="#222" stroke-width="0.13">40</text>
<text x="117.30" y="395.64" font-size="5.3" fill="#222" text-anchor="middle" stroke="#222" stroke-width="0.13">50</text>
<text x="132.80" y="395.64" font-size="5.3" fill="#222" text-anchor="middle" stroke="#222" stroke-width="0.13">60</text>
<text x="148.30" y="395.64" font-size="5.3" fill="#222" text-anchor="middle" stroke="#222" stroke-width="0.13">70</text>
<path d="M29.10 387.30H31.7M29.10 367.68H31.7M29.10 348.06H31.7M29.10 328.44H31.7M29.10 308.82H31.7M29.10 289.20H31.7M39.80 387.3v2.08M55.30 387.3v2.08M70.80 387.3v2.08M86.30 387.3v2.08M101.80 387.3v2.08M117.30 387.3v2.08M132.80 387.3v2.08M148.30 387.3v2.08" stroke="#858585" stroke-width="1.10" fill="none"/>
<path d="M40.57 347.41V357.87M39.77 347.41h1.6M39.77 357.87h1.6M49.10 362.12V369.97M48.30 362.12h1.6M48.30 369.97h1.6M77.00 368.66V373.89M76.20 368.66h1.6M76.20 373.89h1.6M114.20 371.93V375.86M113.40 371.93h1.6M113.40 375.86h1.6M151.40 372.45V376.38M150.60 372.45h1.6M150.60 376.38h1.6" stroke="#3aa83a" stroke-width="0.5" fill="none" opacity="0.6"/>
<path d="M40.57 293.12V320.59M39.77 293.12h1.6M39.77 320.59h1.6M49.10 340.54V352.31M48.30 340.54h1.6M48.30 352.31h1.6M77.00 368.66V375.20M76.20 368.66h1.6M76.20 375.20h1.6M114.20 375.86V381.09M113.40 375.86h1.6M113.40 381.09h1.6M151.40 377.69V384.23M150.60 377.69h1.6M150.60 384.23h1.6" stroke="#ff9a2e" stroke-width="0.5" fill="none" opacity="0.6"/>
<path d="M40.57 361.14V379.45M39.77 361.14h1.6M39.77 379.45h1.6M49.10 361.14V376.84M48.30 361.14h1.6M48.30 376.84h1.6M77.00 360.49V368.33M76.20 360.49h1.6M76.20 368.33h1.6M114.20 361.47V366.70M113.40 361.47h1.6M113.40 366.70h1.6M151.40 360.36V366.90M150.60 360.36h1.6M150.60 366.90h1.6" stroke="#ff4545" stroke-width="0.5" fill="none" opacity="0.6"/>
<path d="M40.57 383.25V385.21M39.77 383.25h1.6M39.77 385.21h1.6M49.10 384.81V386.12M48.30 384.81h1.6M48.30 386.12h1.6M77.00 385.34V386.65M76.20 385.34h1.6M76.20 386.65h1.6M114.20 385.53V386.84M113.40 385.53h1.6M113.40 386.84h1.6M151.40 385.67V386.97M150.60 385.67h1.6M150.60 386.97h1.6" stroke="#b03a3a" stroke-width="0.5" fill="none" opacity="0.6"/>
<path d="M40.57 352.64L49.10 366.05L77.00 371.28L114.20 373.89L151.40 374.42" stroke="#3aa83a" stroke-width="1.2" fill="none" stroke-linejoin="round"/>
<circle cx="40.57" cy="352.64" r="1.3" fill="#fff" stroke="#3aa83a" stroke-width="0.5"/>
<circle cx="49.10" cy="366.05" r="1.3" fill="#fff" stroke="#3aa83a" stroke-width="0.5"/>
<circle cx="77.00" cy="371.28" r="1.3" fill="#fff" stroke="#3aa83a" stroke-width="0.5"/>
<circle cx="114.20" cy="373.89" r="1.3" fill="#fff" stroke="#3aa83a" stroke-width="0.5"/>
<circle cx="151.40" cy="374.42" r="1.3" fill="#fff" stroke="#3aa83a" stroke-width="0.5"/>
<path d="M40.57 306.86L49.10 346.43L77.00 371.93L114.20 378.47L151.40 380.96" stroke="#ff9a2e" stroke-width="1.2" fill="none" stroke-linejoin="round"/>
<circle cx="40.57" cy="306.86" r="1.3" fill="#fff" stroke="#ff9a2e" stroke-width="0.5"/>
<circle cx="49.10" cy="346.43" r="1.3" fill="#fff" stroke="#ff9a2e" stroke-width="0.5"/>
<circle cx="77.00" cy="371.93" r="1.3" fill="#fff" stroke="#ff9a2e" stroke-width="0.5"/>
<circle cx="114.20" cy="378.47" r="1.3" fill="#fff" stroke="#ff9a2e" stroke-width="0.5"/>
<circle cx="151.40" cy="380.96" r="1.3" fill="#fff" stroke="#ff9a2e" stroke-width="0.5"/>
<path d="M40.57 370.30L49.10 368.99L77.00 364.41L114.20 364.08L151.40 363.63" stroke="#ff4545" stroke-width="1.2" fill="none" stroke-linejoin="round"/>
<circle cx="40.57" cy="370.30" r="1.3" fill="#fff" stroke="#ff4545" stroke-width="0.5"/>
<circle cx="49.10" cy="368.99" r="1.3" fill="#fff" stroke="#ff4545" stroke-width="0.5"/>
<circle cx="77.00" cy="364.41" r="1.3" fill="#fff" stroke="#ff4545" stroke-width="0.5"/>
<circle cx="114.20" cy="364.08" r="1.3" fill="#fff" stroke="#ff4545" stroke-width="0.5"/>
<circle cx="151.40" cy="363.63" r="1.3" fill="#fff" stroke="#ff4545" stroke-width="0.5"/>
<path d="M40.57 384.23L49.10 385.47L77.00 385.99L114.20 386.19L151.40 386.32" stroke="#b03a3a" stroke-width="1.2" fill="none" stroke-linejoin="round"/>
<circle cx="40.57" cy="384.23" r="1.3" fill="#fff" stroke="#b03a3a" stroke-width="0.5"/>
<circle cx="49.10" cy="385.47" r="1.3" fill="#fff" stroke="#b03a3a" stroke-width="0.5"/>
<circle cx="77.00" cy="385.99" r="1.3" fill="#fff" stroke="#b03a3a" stroke-width="0.5"/>
<circle cx="114.20" cy="386.19" r="1.3" fill="#fff" stroke="#b03a3a" stroke-width="0.5"/>
<circle cx="151.40" cy="386.32" r="1.3" fill="#fff" stroke="#b03a3a" stroke-width="0.5"/>
<text x="54.2" y="299.1" font-size="6.5" fill="#222" textLength="41.5" lengthAdjust="spacingAndGlyphs"><tspan font-size="4.2" dy="-2.0">89</tspan><tspan dy="2.0">Zr-HD-P-Def</tspan></text>
<path d="M115.8 292.6H130.9" stroke="#3aa83a" stroke-width="1.25"/>
<circle cx="123.35" cy="292.6" r="1.35" fill="#fff" stroke="#3aa83a" stroke-width="0.5"/>
<text x="132.90" y="294.90" font-size="6.38" fill="#222" stroke="#222" stroke-width="0.13">Liver</text>
<path d="M115.8 301.2H130.9" stroke="#ff9a2e" stroke-width="1.25"/>
<circle cx="123.35" cy="301.2" r="1.35" fill="#fff" stroke="#ff9a2e" stroke-width="0.5"/>
<text x="132.90" y="303.50" font-size="6.38" fill="#222" stroke="#222" stroke-width="0.13">Blood</text>
<path d="M115.8 309.5H130.9" stroke="#ff4545" stroke-width="1.25"/>
<circle cx="123.35" cy="309.5" r="1.35" fill="#fff" stroke="#ff4545" stroke-width="0.5"/>
<text x="132.90" y="311.80" font-size="6.38" fill="#222" stroke="#222" stroke-width="0.13">Tumor</text>
<path d="M115.8 317.8H130.9" stroke="#b03a3a" stroke-width="1.25"/>
<circle cx="123.35" cy="317.8" r="1.35" fill="#fff" stroke="#b03a3a" stroke-width="0.5"/>
<text x="132.90" y="320.10" font-size="6.38" fill="#222" stroke="#222" stroke-width="0.13">Muscle</text>
<text x="60.60" y="405.70" font-size="7.0" fill="#222" textLength="66.30" lengthAdjust="spacingAndGlyphs" stroke="#222" stroke-width="0.13">Time post- injection (h)</text>
<text transform="translate(19.3,338) rotate(-90)" font-size="6.0" fill="#222" text-anchor="middle">%ID/g</text>
<path d="M186.7 292.7V389.9H308.0" fill="none" stroke="#707070" stroke-width="0.8"/>
<text x="182.30" y="391.92" font-size="5.6" fill="#222" text-anchor="end" stroke="#222" stroke-width="0.13">0</text>
<text x="182.30" y="381.03" font-size="5.6" fill="#222" text-anchor="end" stroke="#222" stroke-width="0.13">3</text>
<text x="182.30" y="370.14" font-size="5.6" fill="#222" text-anchor="end" stroke="#222" stroke-width="0.13">6</text>
<text x="182.30" y="359.25" font-size="5.6" fill="#222" text-anchor="end" stroke="#222" stroke-width="0.13">9</text>
<text x="182.30" y="348.36" font-size="5.6" fill="#222" text-anchor="end" stroke="#222" stroke-width="0.13">12</text>
<text x="182.30" y="337.47" font-size="5.6" fill="#222" text-anchor="end" stroke="#222" stroke-width="0.13">15</text>
<text x="182.30" y="326.58" font-size="5.6" fill="#222" text-anchor="end" stroke="#222" stroke-width="0.13">18</text>
<text x="182.30" y="315.69" font-size="5.6" fill="#222" text-anchor="end" stroke="#222" stroke-width="0.13">21</text>
<text x="182.30" y="304.80" font-size="5.6" fill="#222" text-anchor="end" stroke="#222" stroke-width="0.13">24</text>
<text x="182.30" y="293.91" font-size="5.6" fill="#222" text-anchor="end" stroke="#222" stroke-width="0.13">27</text>
<text x="194.00" y="398.52" font-size="5.6" fill="#222" text-anchor="middle" stroke="#222" stroke-width="0.13">0</text>
<text x="209.35" y="398.52" font-size="5.6" fill="#222" text-anchor="middle" stroke="#222" stroke-width="0.13">10</text>
<text x="224.70" y="398.52" font-size="5.6" fill="#222" text-anchor="middle" stroke="#222" stroke-width="0.13">20</text>
<text x="240.05" y="398.52" font-size="5.6" fill="#222" text-anchor="middle" stroke="#222" stroke-width="0.13">30</text>
<text x="255.40" y="398.52" font-size="5.6" fill="#222" text-anchor="middle" stroke="#222" stroke-width="0.13">40</text>
<text x="270.75" y="398.52" font-size="5.6" fill="#222" text-anchor="middle" stroke="#222" stroke-width="0.13">50</text>
<text x="286.10" y="398.52" font-size="5.6" fill="#222" text-anchor="middle" stroke="#222" stroke-width="0.13">60</text>
<text x="301.45" y="398.52" font-size="5.6" fill="#222" text-anchor="middle" stroke="#222" stroke-width="0.13">70</text>
<path d="M184.50 389.90H186.7M184.50 379.01H186.7M184.50 368.12H186.7M184.50 357.23H186.7M184.50 346.34H186.7M184.50 335.45H186.7M184.50 324.56H186.7M184.50 313.67H186.7M184.50 302.78H186.7M184.50 291.89H186.7M194.00 389.9v1.76M209.35 389.9v1.76M224.70 389.9v1.76M240.05 389.9v1.76M255.40 389.9v1.76M270.75 389.9v1.76M286.10 389.9v1.76M301.45 389.9v1.76" stroke="#707070" stroke-width="0.68" fill="none"/>
<path d="M194.77 352.51V365.58M193.97 352.51h1.6M193.97 365.58h1.6M203.21 369.21V375.02M202.41 369.21h1.6M202.41 375.02h1.6M230.84 376.65V380.28M230.04 376.65h1.6M230.04 380.28h1.6M267.68 379.12V382.02M266.88 379.12h1.6M266.88 382.02h1.6M304.52 379.95V382.13M303.72 379.95h1.6M303.72 382.13h1.6" stroke="#3aa83a" stroke-width="0.5" fill="none" opacity="0.6"/>
<path d="M194.77 298.06V324.20M193.97 298.06h1.6M193.97 324.20h1.6M203.21 356.50V363.76M202.41 356.50h1.6M202.41 363.76h1.6M230.84 377.19V380.82M230.04 377.19h1.6M230.04 380.82h1.6M267.68 383.37V386.27M266.88 383.37h1.6M266.88 386.27h1.6M304.52 384.93V387.83M303.72 384.93h1.6M303.72 387.83h1.6" stroke="#ff9a2e" stroke-width="0.5" fill="none" opacity="0.6"/>
<path d="M194.77 373.56V382.28M193.97 373.56h1.6M193.97 382.28h1.6M203.21 365.58V377.19M202.41 365.58h1.6M202.41 377.19h1.6M230.84 368.85V371.75M230.04 368.85h1.6M230.04 371.75h1.6M267.68 367.90V371.53M266.88 367.90h1.6M266.88 371.53h1.6M304.52 369.94V372.11M303.72 369.94h1.6M303.72 372.11h1.6" stroke="#ff4545" stroke-width="0.5" fill="none" opacity="0.6"/>
<path d="M194.77 386.02V388.19M193.97 386.02h1.6M193.97 388.19h1.6M203.21 386.63V388.08M202.41 386.63h1.6M202.41 388.08h1.6M230.84 387.90V388.99M230.04 387.90h1.6M230.04 388.99h1.6M267.68 388.81V389.54M266.88 388.81h1.6M266.88 389.54h1.6M304.52 388.99V389.72M303.72 388.99h1.6M303.72 389.72h1.6" stroke="#b03a3a" stroke-width="0.5" fill="none" opacity="0.6"/>
<path d="M194.77 359.04L203.21 372.11L230.84 378.47L267.68 380.57L304.52 381.04" stroke="#3aa83a" stroke-width="1.2" fill="none" stroke-linejoin="round"/>
<circle cx="194.77" cy="359.04" r="1.3" fill="#fff" stroke="#3aa83a" stroke-width="0.5"/>
<circle cx="203.21" cy="372.11" r="1.3" fill="#fff" stroke="#3aa83a" stroke-width="0.5"/>
<circle cx="230.84" cy="378.47" r="1.3" fill="#fff" stroke="#3aa83a" stroke-width="0.5"/>
<circle cx="267.68" cy="380.57" r="1.3" fill="#fff" stroke="#3aa83a" stroke-width="0.5"/>
<circle cx="304.52" cy="381.04" r="1.3" fill="#fff" stroke="#3aa83a" stroke-width="0.5"/>
<path d="M194.77 311.13L203.21 360.13L230.84 379.01L267.68 384.82L304.52 386.38" stroke="#ff9a2e" stroke-width="1.2" fill="none" stroke-linejoin="round"/>
<circle cx="194.77" cy="311.13" r="1.3" fill="#fff" stroke="#ff9a2e" stroke-width="0.5"/>
<circle cx="203.21" cy="360.13" r="1.3" fill="#fff" stroke="#ff9a2e" stroke-width="0.5"/>
<circle cx="230.84" cy="379.01" r="1.3" fill="#fff" stroke="#ff9a2e" stroke-width="0.5"/>
<circle cx="267.68" cy="384.82" r="1.3" fill="#fff" stroke="#ff9a2e" stroke-width="0.5"/>
<circle cx="304.52" cy="386.38" r="1.3" fill="#fff" stroke="#ff9a2e" stroke-width="0.5"/>
<path d="M194.77 377.92L203.21 371.39L230.84 370.30L267.68 369.72L304.52 371.02" stroke="#ff4545" stroke-width="1.2" fill="none" stroke-linejoin="round"/>
<circle cx="194.77" cy="377.92" r="1.3" fill="#fff" stroke="#ff4545" stroke-width="0.5"/>
<circle cx="203.21" cy="371.39" r="1.3" fill="#fff" stroke="#ff4545" stroke-width="0.5"/>
<circle cx="230.84" cy="370.30" r="1.3" fill="#fff" stroke="#ff4545" stroke-width="0.5"/>
<circle cx="267.68" cy="369.72" r="1.3" fill="#fff" stroke="#ff4545" stroke-width="0.5"/>
<circle cx="304.52" cy="371.02" r="1.3" fill="#fff" stroke="#ff4545" stroke-width="0.5"/>
<path d="M194.77 387.10L203.21 387.36L230.84 388.45L267.68 389.17L304.52 389.36" stroke="#b03a3a" stroke-width="1.2" fill="none" stroke-linejoin="round"/>
<circle cx="194.77" cy="387.10" r="1.3" fill="#fff" stroke="#b03a3a" stroke-width="0.5"/>
<circle cx="203.21" cy="387.36" r="1.3" fill="#fff" stroke="#b03a3a" stroke-width="0.5"/>
<circle cx="230.84" cy="388.45" r="1.3" fill="#fff" stroke="#b03a3a" stroke-width="0.5"/>
<circle cx="267.68" cy="389.17" r="1.3" fill="#fff" stroke="#b03a3a" stroke-width="0.5"/>
<circle cx="304.52" cy="389.36" r="1.3" fill="#fff" stroke="#b03a3a" stroke-width="0.5"/>
<text x="208.6" y="301.9" font-size="6.5" fill="#222" textLength="51.0" lengthAdjust="spacingAndGlyphs"><tspan font-size="4.2" dy="-2.0">89</tspan><tspan dy="2.0">Zr-LD-P-30+Def</tspan></text>
<path d="M268.9 298.7H283.5" stroke="#3aa83a" stroke-width="1.25"/>
<circle cx="276.20" cy="298.7" r="1.35" fill="#fff" stroke="#3aa83a" stroke-width="0.5"/>
<text x="285.80" y="301.00" font-size="6.38" fill="#222" stroke="#222" stroke-width="0.13">Liver</text>
<path d="M268.9 306.5H283.5" stroke="#ff9a2e" stroke-width="1.25"/>
<circle cx="276.20" cy="306.5" r="1.35" fill="#fff" stroke="#ff9a2e" stroke-width="0.5"/>
<text x="285.80" y="308.80" font-size="6.38" fill="#222" stroke="#222" stroke-width="0.13">Blood</text>
<path d="M268.9 314.8H283.5" stroke="#ff4545" stroke-width="1.25"/>
<circle cx="276.20" cy="314.8" r="1.35" fill="#fff" stroke="#ff4545" stroke-width="0.5"/>
<text x="285.80" y="317.10" font-size="6.38" fill="#222" stroke="#222" stroke-width="0.13">Tumor</text>
<path d="M268.9 322.9H283.5" stroke="#b03a3a" stroke-width="1.25"/>
<circle cx="276.20" cy="322.9" r="1.35" fill="#fff" stroke="#b03a3a" stroke-width="0.5"/>
<text x="285.80" y="325.20" font-size="6.38" fill="#222" stroke="#222" stroke-width="0.13">Muscle</text>
<text x="214.90" y="407.70" font-size="7.0" fill="#222" textLength="65.90" lengthAdjust="spacingAndGlyphs" stroke="#222" stroke-width="0.13">Time post- injection (h)</text>
<text transform="translate(173.7,341.2) rotate(-90)" font-size="6.2" fill="#222" text-anchor="middle">%ID/g</text>
<path d="M38.2 422.2V526.8H167.0" fill="none" stroke="#666" stroke-width="0.9"/>
<text x="34.30" y="528.42" font-size="4.5" fill="#222" text-anchor="end" stroke="#222" stroke-width="0.13">0</text>
<text x="34.30" y="511.07" font-size="4.5" fill="#222" text-anchor="end" stroke="#222" stroke-width="0.13">5</text>
<text x="34.30" y="493.72" font-size="4.5" fill="#222" text-anchor="end" stroke="#222" stroke-width="0.13">10</text>
<text x="34.30" y="476.37" font-size="4.5" fill="#222" text-anchor="end" stroke="#222" stroke-width="0.13">15</text>
<text x="34.30" y="459.02" font-size="4.5" fill="#222" text-anchor="end" stroke="#222" stroke-width="0.13">20</text>
<text x="34.30" y="441.67" font-size="4.5" fill="#222" text-anchor="end" stroke="#222" stroke-width="0.13">25</text>
<text x="34.30" y="424.32" font-size="4.5" fill="#222" text-anchor="end" stroke="#222" stroke-width="0.13">30</text>
<text x="46.20" y="534.37" font-size="4.5" fill="#222" text-anchor="middle" stroke="#222" stroke-width="0.13">0</text>
<text x="62.26" y="534.37" font-size="4.5" fill="#222" text-anchor="middle" stroke="#222" stroke-width="0.13">10</text>
<text x="78.32" y="534.37" font-size="4.5" fill="#222" text-anchor="middle" stroke="#222" stroke-width="0.13">20</text>
<text x="94.38" y="534.37" font-size="4.5" fill="#222" text-anchor="middle" stroke="#222" stroke-width="0.13">30</text>
<text x="110.44" y="534.37" font-size="4.5" fill="#222" text-anchor="middle" stroke="#222" stroke-width="0.13">40</text>
<text x="126.50" y="534.37" font-size="4.5" fill="#222" text-anchor="middle" stroke="#222" stroke-width="0.13">50</text>
<text x="142.56" y="534.37" font-size="4.5" fill="#222" text-anchor="middle" stroke="#222" stroke-width="0.13">60</text>
<text x="158.62" y="534.37" font-size="4.5" fill="#222" text-anchor="middle" stroke="#222" stroke-width="0.13">70</text>
<path d="M36.00 526.80H38.2M36.00 509.45H38.2M36.00 492.10H38.2M36.00 474.75H38.2M36.00 457.40H38.2M36.00 440.05H38.2M36.00 422.70H38.2M46.20 526.8v1.76M62.26 526.8v1.76M78.32 526.8v1.76M94.38 526.8v1.76M110.44 526.8v1.76M126.50 526.8v1.76M142.56 526.8v1.76M158.62 526.8v1.76M54.23 526.8v0.99M70.29 526.8v0.99M86.35 526.8v0.99M102.41 526.8v0.99M118.47 526.8v0.99M134.53 526.8v0.99M150.59 526.8v0.99M166.65 526.8v0.99" stroke="#666" stroke-width="0.77" fill="none"/>
<path d="M47.00 488.98V492.45M46.20 488.98h1.6M46.20 492.45h1.6M51.02 487.94V493.49M50.22 487.94h1.6M50.22 493.49h1.6M55.84 493.83V500.77M55.04 493.83h1.6M55.04 500.77h1.6M81.53 501.82V507.37M80.73 501.82h1.6M80.73 507.37h1.6M123.29 494.53V512.57M122.49 494.53h1.6M122.49 512.57h1.6M161.83 497.65V511.53M161.03 497.65h1.6M161.03 511.53h1.6" stroke="#3aa83a" stroke-width="0.5" fill="none" opacity="0.6"/>
<path d="M47.00 424.43V443.87M46.20 424.43h1.6M46.20 443.87h1.6M51.02 448.38V466.42M50.22 448.38h1.6M50.22 466.42h1.6M55.84 458.44V475.10M55.04 458.44h1.6M55.04 475.10h1.6M81.53 487.59V501.47M80.73 487.59h1.6M80.73 501.47h1.6M123.29 494.53V522.29M122.49 494.53h1.6M122.49 522.29h1.6M161.83 501.12V525.41M161.03 501.12h1.6M161.03 525.41h1.6" stroke="#ff9a2e" stroke-width="0.5" fill="none" opacity="0.6"/>
<path d="M47.00 508.41V517.43M46.20 508.41h1.6M46.20 517.43h1.6M51.02 503.20V511.53M50.22 503.20h1.6M50.22 511.53h1.6M55.84 496.96V510.84M55.04 496.96h1.6M55.04 510.84h1.6M81.53 487.07V498.17M80.73 487.07h1.6M80.73 498.17h1.6M123.29 478.57V493.83M122.49 478.57h1.6M122.49 493.83h1.6M161.83 482.04V494.53M161.03 482.04h1.6M161.03 494.53h1.6" stroke="#ff4545" stroke-width="0.5" fill="none" opacity="0.6"/>
<path d="M47.00 520.66V522.74M46.20 520.66h1.6M46.20 522.74h1.6M51.02 520.66V522.74M50.22 520.66h1.6M50.22 522.74h1.6M55.84 520.73V522.81M55.04 520.73h1.6M55.04 522.81h1.6M81.53 522.81V524.20M80.73 522.81h1.6M80.73 524.20h1.6M123.29 523.16V525.24M122.49 523.16h1.6M122.49 525.24h1.6M161.83 523.47V525.55M161.03 523.47h1.6M161.03 525.55h1.6" stroke="#b03a3a" stroke-width="0.5" fill="none" opacity="0.6"/>
<path d="M47.00 490.71L51.02 490.71L55.84 497.30L81.53 504.59L123.29 503.55L161.83 504.59" stroke="#3aa83a" stroke-width="1.2" fill="none" stroke-linejoin="round"/>
<circle cx="47.00" cy="490.71" r="1.5" fill="#fff" stroke="#3aa83a" stroke-width="0.5"/>
<circle cx="51.02" cy="490.71" r="1.5" fill="#fff" stroke="#3aa83a" stroke-width="0.5"/>
<circle cx="55.84" cy="497.30" r="1.5" fill="#fff" stroke="#3aa83a" stroke-width="0.5"/>
<circle cx="81.53" cy="504.59" r="1.5" fill="#fff" stroke="#3aa83a" stroke-width="0.5"/>
<circle cx="123.29" cy="503.55" r="1.5" fill="#fff" stroke="#3aa83a" stroke-width="0.5"/>
<circle cx="161.83" cy="504.59" r="1.5" fill="#fff" stroke="#3aa83a" stroke-width="0.5"/>
<path d="M47.00 434.15L51.02 457.40L55.84 466.77L81.53 494.53L123.29 508.41L161.83 513.27" stroke="#ff9a2e" stroke-width="1.2" fill="none" stroke-linejoin="round"/>
<circle cx="47.00" cy="434.15" r="1.5" fill="#fff" stroke="#ff9a2e" stroke-width="0.5"/>
<circle cx="51.02" cy="457.40" r="1.5" fill="#fff" stroke="#ff9a2e" stroke-width="0.5"/>
<circle cx="55.84" cy="466.77" r="1.5" fill="#fff" stroke="#ff9a2e" stroke-width="0.5"/>
<circle cx="81.53" cy="494.53" r="1.5" fill="#fff" stroke="#ff9a2e" stroke-width="0.5"/>
<circle cx="123.29" cy="508.41" r="1.5" fill="#fff" stroke="#ff9a2e" stroke-width="0.5"/>
<circle cx="161.83" cy="513.27" r="1.5" fill="#fff" stroke="#ff9a2e" stroke-width="0.5"/>
<path d="M47.00 512.92L51.02 507.37L55.84 503.90L81.53 492.62L123.29 486.20L161.83 488.28" stroke="#ff4545" stroke-width="1.2" fill="none" stroke-linejoin="round"/>
<circle cx="47.00" cy="512.92" r="1.5" fill="#fff" stroke="#ff4545" stroke-width="0.5"/>
<circle cx="51.02" cy="507.37" r="1.5" fill="#fff" stroke="#ff4545" stroke-width="0.5"/>
<circle cx="55.84" cy="503.90" r="1.5" fill="#fff" stroke="#ff4545" stroke-width="0.5"/>
<circle cx="81.53" cy="492.62" r="1.5" fill="#fff" stroke="#ff4545" stroke-width="0.5"/>
<circle cx="123.29" cy="486.20" r="1.5" fill="#fff" stroke="#ff4545" stroke-width="0.5"/>
<circle cx="161.83" cy="488.28" r="1.5" fill="#fff" stroke="#ff4545" stroke-width="0.5"/>
<path d="M47.00 521.70L51.02 521.70L55.84 521.77L81.53 523.50L123.29 524.20L161.83 524.51" stroke="#b03a3a" stroke-width="1.2" fill="none" stroke-linejoin="round"/>
<circle cx="47.00" cy="521.70" r="1.5" fill="#fff" stroke="#b03a3a" stroke-width="0.5"/>
<circle cx="51.02" cy="521.70" r="1.5" fill="#fff" stroke="#b03a3a" stroke-width="0.5"/>
<circle cx="55.84" cy="521.77" r="1.5" fill="#fff" stroke="#b03a3a" stroke-width="0.5"/>
<circle cx="81.53" cy="523.50" r="1.5" fill="#fff" stroke="#b03a3a" stroke-width="0.5"/>
<circle cx="123.29" cy="524.20" r="1.5" fill="#fff" stroke="#b03a3a" stroke-width="0.5"/>
<circle cx="161.83" cy="524.51" r="1.5" fill="#fff" stroke="#b03a3a" stroke-width="0.5"/>
<text x="55.5" y="433.9" font-size="6.3" fill="#222" textLength="54.7" lengthAdjust="spacingAndGlyphs"><tspan font-size="6.2" dy="-2.6">89</tspan><tspan dy="2.6">Zr-LD-P-45+Def</tspan></text>
<path d="M122.3 429.4H138.0" stroke="#3aa83a" stroke-width="1.25"/>
<circle cx="130.15" cy="429.4" r="1.35" fill="#fff" stroke="#3aa83a" stroke-width="0.5"/>
<text x="139.70" y="431.70" font-size="6.47" fill="#222" stroke="#222" stroke-width="0.13">Liver</text>
<path d="M122.3 438.0H138.0" stroke="#ff9a2e" stroke-width="1.25"/>
<circle cx="130.15" cy="438.0" r="1.35" fill="#fff" stroke="#ff9a2e" stroke-width="0.5"/>
<text x="139.70" y="440.30" font-size="6.47" fill="#222" stroke="#222" stroke-width="0.13">Blood</text>
<path d="M122.3 446.3H138.0" stroke="#ff4545" stroke-width="1.25"/>
<circle cx="130.15" cy="446.3" r="1.35" fill="#fff" stroke="#ff4545" stroke-width="0.5"/>
<text x="139.70" y="448.60" font-size="6.47" fill="#222" stroke="#222" stroke-width="0.13">Tumor</text>
<path d="M122.3 454.9H138.0" stroke="#b03a3a" stroke-width="1.25"/>
<circle cx="130.15" cy="454.9" r="1.35" fill="#fff" stroke="#b03a3a" stroke-width="0.5"/>
<text x="139.70" y="457.20" font-size="6.47" fill="#222" stroke="#222" stroke-width="0.13">Muscle</text>
<text x="69.90" y="543.20" font-size="7.0" fill="#222" textLength="65.50" lengthAdjust="spacingAndGlyphs" stroke="#222" stroke-width="0.13">Time post-injection (h)</text>
<text transform="translate(26.0,474.7) rotate(-90)" font-size="6.4" fill="#222" text-anchor="middle">%ID/g</text>
<defs><linearGradient id="go" x1="0" y1="0" x2="0" y2="1" gradientUnits="userSpaceOnUse" ><stop offset="0" stop-color="#ff8c10"/><stop offset="1" stop-color="#a85400"/></linearGradient><linearGradient id="gg" x1="0" y1="0" x2="0" y2="1"><stop offset="0" stop-color="#1cff2a"/><stop offset="1" stop-color="#00a010"/></linearGradient><linearGradient id="gr" x1="0" y1="0" x2="0" y2="1"><stop offset="0" stop-color="#ff0000"/><stop offset="1" stop-color="#860000"/></linearGradient></defs>
<defs><linearGradient id="bg0" x1="0" y1="510.84" x2="0" y2="527.0" gradientUnits="userSpaceOnUse"><stop offset="0" stop-color="#ff8c10"/><stop offset="1" stop-color="#9a4c00"/></linearGradient></defs>
<path d="M202.78 510.84V508.85m-1 0h2" stroke="#ff9a2e" stroke-width="0.5" fill="none" opacity="0.75"/>
<rect x="199.80" y="510.84" width="6.0" height="16.16" fill="url(#bg0)"/>
<defs><linearGradient id="bg1" x1="0" y1="506.78" x2="0" y2="527.0" gradientUnits="userSpaceOnUse"><stop offset="0" stop-color="#22ff30"/><stop offset="1" stop-color="#009a10"/></linearGradient></defs>
<path d="M208.72 506.78V505.59m-1 0h2" stroke="#22cc30" stroke-width="0.5" fill="none" opacity="0.75"/>
<rect x="205.75" y="506.78" width="6.0" height="20.22" fill="url(#bg1)"/>
<defs><linearGradient id="bg2" x1="0" y1="475.42" x2="0" y2="527.0" gradientUnits="userSpaceOnUse"><stop offset="0" stop-color="#ff0000"/><stop offset="1" stop-color="#7a0000"/></linearGradient></defs>
<path d="M214.68 475.42V461.89m-1 0h2" stroke="#ff5555" stroke-width="0.5" fill="none" opacity="0.75"/>
<rect x="211.70" y="475.42" width="6.0" height="51.58" fill="url(#bg2)"/>
<text x="202.70" y="535.70" font-size="6.3" fill="#222" textLength="12.60" lengthAdjust="spacingAndGlyphs" stroke="#222" stroke-width="0.13">Liver</text>
<defs><linearGradient id="bg3" x1="0" y1="518.88" x2="0" y2="527.0" gradientUnits="userSpaceOnUse"><stop offset="0" stop-color="#ff8c10"/><stop offset="1" stop-color="#9a4c00"/></linearGradient></defs>
<path d="M237.78 518.88V515.30m-1 0h2" stroke="#ff9a2e" stroke-width="0.5" fill="none" opacity="0.75"/>
<rect x="234.80" y="518.88" width="6.0" height="8.12" fill="url(#bg3)"/>
<defs><linearGradient id="bg4" x1="0" y1="519.68" x2="0" y2="527.0" gradientUnits="userSpaceOnUse"><stop offset="0" stop-color="#22ff30"/><stop offset="1" stop-color="#009a10"/></linearGradient></defs>
<path d="M243.72 519.68V517.29m-1 0h2" stroke="#22cc30" stroke-width="0.5" fill="none" opacity="0.75"/>
<rect x="240.75" y="519.68" width="6.0" height="7.32" fill="url(#bg4)"/>
<defs><linearGradient id="bg5" x1="0" y1="496.19" x2="0" y2="527.0" gradientUnits="userSpaceOnUse"><stop offset="0" stop-color="#ff0000"/><stop offset="1" stop-color="#7a0000"/></linearGradient></defs>
<path d="M249.68 496.19V472.31m-1 0h2" stroke="#ff5555" stroke-width="0.5" fill="none" opacity="0.75"/>
<rect x="246.70" y="496.19" width="6.0" height="30.81" fill="url(#bg5)"/>
<text x="236.70" y="535.70" font-size="6.3" fill="#222" textLength="14.40" lengthAdjust="spacingAndGlyphs" stroke="#222" stroke-width="0.13">Blood</text>
<defs><linearGradient id="bg6" x1="0" y1="497.15" x2="0" y2="527.0" gradientUnits="userSpaceOnUse"><stop offset="0" stop-color="#ff8c10"/><stop offset="1" stop-color="#9a4c00"/></linearGradient></defs>
<path d="M273.18 497.15V493.17m-1 0h2" stroke="#ff9a2e" stroke-width="0.5" fill="none" opacity="0.75"/>
<rect x="270.20" y="497.15" width="6.0" height="29.85" fill="url(#bg6)"/>
<defs><linearGradient id="bg7" x1="0" y1="485.05" x2="0" y2="527.0" gradientUnits="userSpaceOnUse"><stop offset="0" stop-color="#22ff30"/><stop offset="1" stop-color="#009a10"/></linearGradient></defs>
<path d="M279.12 485.05V482.26m-1 0h2" stroke="#22cc30" stroke-width="0.5" fill="none" opacity="0.75"/>
<rect x="276.15" y="485.05" width="6.0" height="41.95" fill="url(#bg7)"/>
<defs><linearGradient id="bg8" x1="0" y1="439.44" x2="0" y2="527.0" gradientUnits="userSpaceOnUse"><stop offset="0" stop-color="#ff0000"/><stop offset="1" stop-color="#7a0000"/></linearGradient></defs>
<path d="M285.07 439.44V425.11m-1 0h2" stroke="#ff5555" stroke-width="0.5" fill="none" opacity="0.75"/>
<rect x="282.10" y="439.44" width="6.0" height="87.56" fill="url(#bg8)"/>
<text x="271.40" y="535.70" font-size="6.3" fill="#222" textLength="15.90" lengthAdjust="spacingAndGlyphs" stroke="#222" stroke-width="0.13">Tumor</text>
<defs><linearGradient id="bg9" x1="0" y1="524.93" x2="0" y2="527.0" gradientUnits="userSpaceOnUse"><stop offset="0" stop-color="#ff8c10"/><stop offset="1" stop-color="#9a4c00"/></linearGradient></defs>
<path d="M308.18 524.93V524.29m-1 0h2" stroke="#ff9a2e" stroke-width="0.5" fill="none" opacity="0.75"/>
<rect x="305.20" y="524.93" width="6.0" height="2.07" fill="url(#bg9)"/>
<defs><linearGradient id="bg10" x1="0" y1="524.69" x2="0" y2="527.0" gradientUnits="userSpaceOnUse"><stop offset="0" stop-color="#22ff30"/><stop offset="1" stop-color="#009a10"/></linearGradient></defs>
<path d="M314.12 524.69V524.05m-1 0h2" stroke="#22cc30" stroke-width="0.5" fill="none" opacity="0.75"/>
<rect x="311.15" y="524.69" width="6.0" height="2.31" fill="url(#bg10)"/>
<defs><linearGradient id="bg11" x1="0" y1="520.39" x2="0" y2="527.0" gradientUnits="userSpaceOnUse"><stop offset="0" stop-color="#ff0000"/><stop offset="1" stop-color="#7a0000"/></linearGradient></defs>
<path d="M320.07 520.39V518.80m-1 0h2" stroke="#ff5555" stroke-width="0.5" fill="none" opacity="0.75"/>
<rect x="317.10" y="520.39" width="6.0" height="6.61" fill="url(#bg11)"/>
<text x="305.20" y="535.70" font-size="6.3" fill="#222" textLength="18.70" lengthAdjust="spacingAndGlyphs" stroke="#222" stroke-width="0.13">Muscle</text>
<path d="M191.1 414.5V527.0H332.2" fill="none" stroke="#5a5a5a" stroke-width="0.75"/>
<text x="187.00" y="528.70" font-size="4.6" fill="#222" text-anchor="end" stroke="#222" stroke-width="0.13">0</text>
<text x="187.00" y="512.78" font-size="4.6" fill="#222" text-anchor="end" stroke="#222" stroke-width="0.13">2</text>
<text x="187.00" y="496.86" font-size="4.6" fill="#222" text-anchor="end" stroke="#222" stroke-width="0.13">4</text>
<text x="187.00" y="480.94" font-size="4.6" fill="#222" text-anchor="end" stroke="#222" stroke-width="0.13">6</text>
<text x="187.00" y="465.02" font-size="4.6" fill="#222" text-anchor="end" stroke="#222" stroke-width="0.13">8</text>
<text x="187.00" y="449.10" font-size="4.6" fill="#222" text-anchor="end" stroke="#222" stroke-width="0.13">10</text>
<text x="187.00" y="433.18" font-size="4.6" fill="#222" text-anchor="end" stroke="#222" stroke-width="0.13">12</text>
<text x="187.00" y="417.26" font-size="4.6" fill="#222" text-anchor="end" stroke="#222" stroke-width="0.13">14</text>
<path d="M188.90 527.00H191.1M188.90 511.08H191.1M188.90 495.16H191.1M188.90 479.24H191.1M188.90 463.32H191.1M188.90 447.40H191.1M188.90 431.48H191.1M188.90 415.56H191.1M208.7 527.0v1.8M243.7 527.0v1.8M279.1 527.0v1.8M314.1 527.0v1.8" stroke="#5a5a5a" stroke-width="0.6" fill="none"/>
<text transform="translate(179.6,511.4) rotate(-90)" font-size="5.9" fill="#222" textLength="80" lengthAdjust="spacingAndGlyphs">Radioactivity Retained (%ID/g)</text>
<defs><linearGradient id="lg0" x1="0" y1="0" x2="0" y2="1"><stop offset="0" stop-color="#ff8c10"/><stop offset="1" stop-color="#9a4c00"/></linearGradient></defs>
<rect x="194.1" y="419.6" width="12.6" height="6.00" fill="url(#lg0)"/>
<text x="212.9" y="425.10" font-size="6.45" fill="#222"><tspan font-size="4.2" dy="-2.0">89</tspan><tspan dy="2.0">Zr-HD-P-Def</tspan></text>
<defs><linearGradient id="lg1" x1="0" y1="0" x2="0" y2="1"><stop offset="0" stop-color="#22ff30"/><stop offset="1" stop-color="#009a10"/></linearGradient></defs>
<rect x="194.1" y="427.2" width="12.6" height="6.00" fill="url(#lg1)"/>
<text x="212.9" y="432.70" font-size="6.45" fill="#222"><tspan font-size="4.2" dy="-2.0">89</tspan><tspan dy="2.0">Zr-LD-P-30-Def</tspan></text>
<defs><linearGradient id="lg2" x1="0" y1="0" x2="0" y2="1"><stop offset="0" stop-color="#ff0000"/><stop offset="1" stop-color="#7a0000"/></linearGradient></defs>
<rect x="194.1" y="434.9" width="12.6" height="6.40" fill="url(#lg2)"/>
<text x="212.9" y="440.60" font-size="6.45" fill="#222"><tspan font-size="4.2" dy="-2.0">89</tspan><tspan dy="2.0">Zr-LD-P-45-Def</tspan></text>
<text x="296.90" y="426.60" font-size="6.3" fill="#222" textLength="21.20" lengthAdjust="spacingAndGlyphs" stroke="#222" stroke-width="0.13">72 h p.i.</text>
</svg>
</body></html>
